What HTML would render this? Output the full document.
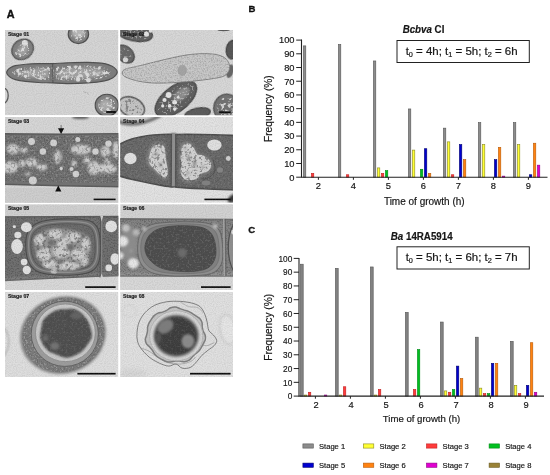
<!DOCTYPE html>
<html><head><meta charset="utf-8"><title>Figure</title>
<style>
html,body{margin:0;padding:0;background:#fff;}
body{width:550px;height:475px;overflow:hidden;font-family:"Liberation Sans", sans-serif;}
svg{display:block;}
svg text{font-family:"Liberation Sans", sans-serif;fill:#161616;stroke:#161616;stroke-width:0.18px;}
</style></head><body>
<svg width="550" height="475" viewBox="0 0 550 475">
<rect width="550" height="475" fill="#fff"/>
<text x="6.7" y="17.7" font-size="10.8" font-weight="bold" fill="#000" style="stroke:#000;stroke-width:0.35px">A</text>
<text x="248.6" y="11.6" font-size="9.6" font-weight="bold" fill="#000" style="stroke:#000;stroke-width:0.3px">B</text>
<text x="248.2" y="233.1" font-size="9.6" font-weight="bold" fill="#000" style="stroke:#000;stroke-width:0.3px">C</text>
<defs>
<filter id="b03" filterUnits="userSpaceOnUse" x="0" y="0" width="240" height="380"><feGaussianBlur stdDeviation="0.3"/></filter>
<filter id="b05" filterUnits="userSpaceOnUse" x="0" y="0" width="240" height="380"><feGaussianBlur stdDeviation="0.5"/></filter>
<filter id="b08" filterUnits="userSpaceOnUse" x="0" y="0" width="240" height="380"><feGaussianBlur stdDeviation="0.8"/></filter>
<filter id="b12" filterUnits="userSpaceOnUse" x="0" y="0" width="240" height="380"><feGaussianBlur stdDeviation="1.2"/></filter>
<filter id="b2" filterUnits="userSpaceOnUse" x="0" y="0" width="240" height="380"><feGaussianBlur stdDeviation="2.0"/></filter>
<filter id="b3" filterUnits="userSpaceOnUse" x="0" y="0" width="240" height="380"><feGaussianBlur stdDeviation="3.0"/></filter>
<filter id="nW1" x="0" y="0" width="100%" height="100%" color-interpolation-filters="sRGB"><feTurbulence type="fractalNoise" baseFrequency="0.28" numOctaves="3" seed="4"/><feColorMatrix type="matrix" values="0 0 0 0 0.86  0 0 0 0 0.86  0 0 0 0 0.86  8 0 0 0 -4.1"/><feGaussianBlur stdDeviation="0.45"/></filter>
<filter id="nW2" x="0" y="0" width="100%" height="100%" color-interpolation-filters="sRGB"><feTurbulence type="fractalNoise" baseFrequency="0.16" numOctaves="3" seed="11"/><feColorMatrix type="matrix" values="0 0 0 0 0.86  0 0 0 0 0.86  0 0 0 0 0.86  9 0 0 0 -4.6"/><feGaussianBlur stdDeviation="0.5"/></filter>
<filter id="nW3" x="0" y="0" width="100%" height="100%" color-interpolation-filters="sRGB"><feTurbulence type="fractalNoise" baseFrequency="0.5" numOctaves="2" seed="7"/><feColorMatrix type="matrix" values="0 0 0 0 0.85  0 0 0 0 0.85  0 0 0 0 0.85  7 0 0 0 -3.7"/><feGaussianBlur stdDeviation="0.35"/></filter>
<filter id="nD1" x="0" y="0" width="100%" height="100%" color-interpolation-filters="sRGB"><feTurbulence type="fractalNoise" baseFrequency="0.7" numOctaves="2" seed="5"/><feColorMatrix type="matrix" values="0 0 0 0 0.25  0 0 0 0 0.25  0 0 0 0 0.25  3 0 0 0 -1.3"/><feGaussianBlur stdDeviation="0.3"/></filter>
<filter id="nD2" x="0" y="0" width="100%" height="100%" color-interpolation-filters="sRGB"><feTurbulence type="fractalNoise" baseFrequency="0.35" numOctaves="3" seed="9"/><feColorMatrix type="matrix" values="0 0 0 0 0.28  0 0 0 0 0.28  0 0 0 0 0.28  6 0 0 0 -3.1"/><feGaussianBlur stdDeviation="0.45"/></filter>
<filter id="nG" x="0" y="0" width="100%" height="100%" color-interpolation-filters="sRGB"><feTurbulence type="fractalNoise" baseFrequency="0.9" numOctaves="1" seed="2"/><feColorMatrix type="matrix" values="0 0 0 0 0.5  0 0 0 0 0.5  0 0 0 0 0.5  1.2 0 0 0 -0.45"/></filter>
</defs>
<defs>
<clipPath id="cp1"><rect x="5" y="30" width="113.4" height="85.2"/></clipPath>
<clipPath id="cp2"><rect x="120.2" y="30" width="112.8" height="85.2"/></clipPath>
<clipPath id="cp3"><rect x="5" y="117" width="113.4" height="85.8"/></clipPath>
<clipPath id="cp4"><rect x="120.2" y="117" width="112.8" height="85.8"/></clipPath>
<clipPath id="cp5"><rect x="5" y="204.2" width="113.4" height="85.8"/></clipPath>
<clipPath id="cp6"><rect x="120.2" y="204.2" width="112.8" height="85.8"/></clipPath>
<clipPath id="cp7"><rect x="5" y="291.8" width="113.4" height="85.2"/></clipPath>
<clipPath id="cp8"><rect x="120.2" y="291.8" width="112.8" height="85.2"/></clipPath>
</defs>
<g clip-path="url(#cp1)">
<rect x="5" y="30" width="113.4" height="85.2" fill="#d5d5d5"/>
<ellipse cx="22.60" cy="49.40" rx="11.30" ry="9.80" transform="rotate(-35 22.60 49.40)" fill="#808080" stroke="#4e4e4e" stroke-width="1.2" filter="url(#b03)"/><ellipse cx="22.60" cy="50.40" rx="6.00" ry="4.50" transform="rotate(-35 22.60 50.40)" fill="#a4a4a4" filter="url(#b12)"/><clipPath id="c1"><ellipse cx="22.60" cy="49.40" rx="8.50" ry="7.00" transform="rotate(-35 22.60 49.40)" /></clipPath><g clip-path="url(#c1)"><rect x="1.5" y="28.3" width="42.2" height="42.2" filter="url(#nW1)" opacity="1.0"/></g>
<ellipse cx="24.80" cy="42.90" rx="3.00" ry="2.80" fill="#e0e0e0" filter="url(#b05)"/>
<ellipse cx="78.41" cy="34.09" rx="10.20" ry="9.50" fill="#808080" stroke="#4e4e4e" stroke-width="1.2" filter="url(#b03)"/><ellipse cx="78.41" cy="33.09" rx="6.50" ry="5.00" fill="#b8b8b8" filter="url(#b12)"/><clipPath id="c2"><ellipse cx="78.41" cy="34.09" rx="7.40" ry="6.70" /></clipPath><g clip-path="url(#c2)"><rect x="58.7" y="14.4" width="39.4" height="39.4" filter="url(#nW1)" opacity="1.0"/></g>
<ellipse cx="106.82" cy="105.23" rx="11.60" ry="11.00" fill="#808080" stroke="#4e4e4e" stroke-width="1.2" filter="url(#b03)"/><ellipse cx="105.82" cy="105.23" rx="6.50" ry="6.00" fill="#adadad" filter="url(#b12)"/><clipPath id="c3"><ellipse cx="106.82" cy="105.23" rx="8.50" ry="7.90" /></clipPath><g clip-path="url(#c3)"><rect x="84.2" y="82.6" width="45.2" height="45.2" filter="url(#nW1)" opacity="1.0"/></g>
<ellipse cx="3.60" cy="95.50" rx="4.60" ry="7.50" fill="#d8d8d8" stroke="#5a5a5a" stroke-width="1.3" filter="url(#b05)"/>
<path d="M6.66 72.53C6.66 71.74 7.14 70.80 7.70 70.04C8.25 69.28 8.70 68.69 9.98 67.97C11.26 67.24 12.75 66.31 15.37 65.68C18.00 65.06 21.94 64.58 25.75 64.23C29.55 63.89 33.77 63.71 38.20 63.61C42.62 63.51 47.46 63.75 52.30 63.61C57.14 63.47 61.29 62.99 67.24 62.78C73.19 62.57 81.76 62.23 87.99 62.37C94.21 62.50 100.50 62.92 104.59 63.61C108.67 64.30 110.57 65.55 112.47 66.51C114.37 67.48 115.20 68.49 116.00 69.42C116.79 70.35 117.28 71.18 117.24 72.12C117.21 73.05 116.58 74.05 115.79 75.02C114.99 75.99 114.34 76.96 112.47 77.93C110.60 78.89 108.67 80.00 104.59 80.83C100.50 81.66 94.21 82.46 87.99 82.90C81.76 83.35 73.19 83.53 67.24 83.53C61.29 83.53 57.14 83.08 52.30 82.90C47.46 82.73 42.62 82.73 38.20 82.49C33.77 82.25 29.55 81.94 25.75 81.45C21.94 80.97 18.00 80.31 15.37 79.59C12.75 78.86 11.26 77.89 9.98 77.10C8.70 76.30 8.25 75.57 7.70 74.81C7.14 74.05 6.66 73.33 6.66 72.53Z" fill="#7c7c7c" stroke="#505050" stroke-width="1.2" filter="url(#b03)"/>
<path d="M17.45 73.15C17.45 71.84 25.06 70.11 29.90 69.42C34.74 68.73 43.55 67.69 46.49 69.00C49.43 70.32 50.30 75.92 47.53 77.30C44.76 78.69 34.91 77.99 29.90 77.30C24.88 76.61 17.45 74.47 17.45 73.15Z" fill="#a2a2a2" filter="url(#b12)"/>
<path d="M57.90 71.49C59.36 70.11 61.54 69.00 67.24 68.38C72.95 67.76 85.91 67.24 92.14 67.76C98.36 68.28 103.89 69.90 104.59 71.49C105.28 73.08 102.51 76.13 96.29 77.30C90.06 78.48 73.53 78.65 67.24 78.55C60.95 78.44 60.08 77.86 58.53 76.68C56.97 75.50 56.45 72.88 57.90 71.49Z" fill="#a2a2a2" filter="url(#b12)"/>
<clipPath id="c4"><path d="M12.26 72.53C12.26 71.42 14.16 70.25 16.41 69.42C18.66 68.59 22.12 68.00 25.75 67.55C29.38 67.10 34.29 66.86 38.20 66.72C42.10 66.58 46.18 66.72 49.19 66.72C52.20 66.72 53.24 66.86 56.24 66.72C59.25 66.58 61.95 66.10 67.24 65.89C72.53 65.68 82.28 65.34 87.99 65.48C93.69 65.62 98.02 66.07 101.47 66.72C104.93 67.38 107.11 68.45 108.73 69.42C110.36 70.39 111.29 71.49 111.22 72.53C111.15 73.57 110.05 74.71 108.32 75.64C106.59 76.58 104.24 77.44 100.85 78.13C97.46 78.82 93.59 79.41 87.99 79.79C82.39 80.17 72.53 80.41 67.24 80.41C61.95 80.41 59.25 79.90 56.24 79.79C53.24 79.69 52.20 79.86 49.19 79.79C46.18 79.72 42.10 79.62 38.20 79.38C34.29 79.14 29.38 78.89 25.75 78.34C22.12 77.79 18.66 77.03 16.41 76.06C14.16 75.09 12.26 73.64 12.26 72.53Z" /></clipPath><g clip-path="url(#c4)"><rect x="5.0" y="60.0" width="114.0" height="28.0" filter="url(#nW1)" opacity="1"/></g>
<clipPath id="c5"><path d="M12.26 72.53C12.26 71.42 14.16 70.25 16.41 69.42C18.66 68.59 22.12 68.00 25.75 67.55C29.38 67.10 34.29 66.86 38.20 66.72C42.10 66.58 46.18 66.72 49.19 66.72C52.20 66.72 53.24 66.86 56.24 66.72C59.25 66.58 61.95 66.10 67.24 65.89C72.53 65.68 82.28 65.34 87.99 65.48C93.69 65.62 98.02 66.07 101.47 66.72C104.93 67.38 107.11 68.45 108.73 69.42C110.36 70.39 111.29 71.49 111.22 72.53C111.15 73.57 110.05 74.71 108.32 75.64C106.59 76.58 104.24 77.44 100.85 78.13C97.46 78.82 93.59 79.41 87.99 79.79C82.39 80.17 72.53 80.41 67.24 80.41C61.95 80.41 59.25 79.90 56.24 79.79C53.24 79.69 52.20 79.86 49.19 79.79C46.18 79.72 42.10 79.62 38.20 79.38C34.29 79.14 29.38 78.89 25.75 78.34C22.12 77.79 18.66 77.03 16.41 76.06C14.16 75.09 12.26 73.64 12.26 72.53Z" /></clipPath><g clip-path="url(#c5)"><rect x="5.0" y="60.0" width="114.0" height="28.0" filter="url(#nW3)" opacity="0.6"/></g>
<path d="M52.72 63.40 L52.93 82.90" stroke="#4a4a4a" stroke-width="0.9" fill="none" filter="url(#b03)"/>
<path d="M50.85 65.68 L51.06 80.83 M54.79 65.68 L55.00 80.83" stroke="#727272" stroke-width="1.6" fill="none" filter="url(#b05)"/>
<ellipse cx="78.03" cy="79.38" rx="2.28" ry="2.28" fill="#dcdcdc" filter="url(#b03)"/>
<ellipse cx="88.40" cy="80.21" rx="2.28" ry="2.28" fill="#dcdcdc" filter="url(#b03)"/>
<ellipse cx="87.57" cy="74.61" rx="1.87" ry="1.87" fill="#dcdcdc" filter="url(#b03)"/>
<ellipse cx="75.54" cy="66.93" rx="1.45" ry="1.45" fill="#dcdcdc" filter="url(#b03)"/>
<ellipse cx="99.40" cy="67.97" rx="1.45" ry="1.45" fill="#dcdcdc" filter="url(#b03)"/>
<ellipse cx="17.86" cy="71.08" rx="1.66" ry="1.66" fill="#dcdcdc" filter="url(#b03)"/>
<ellipse cx="94.21" cy="73.98" rx="1.45" ry="1.45" fill="#dcdcdc" filter="url(#b03)"/>
<path d="M83.5 91.5 l2.5 1.4 M86.5 92.3 l2.2 2.0" stroke="#9a9a9a" stroke-width="0.6" fill="none"/>
<rect x="106.2" y="111.05" width="9.6" height="1.9" fill="#0a0a0a"/>
<text x="7.9" y="36.2" font-size="5.2" font-weight="bold" fill="#000" stroke="#000" stroke-width="0.18">Stage 01</text>
<rect x="5" y="30" width="113.4" height="85.2" filter="url(#nG)" opacity="0.35"/>
</g>
<g clip-path="url(#cp2)">
<rect x="120.2" y="30" width="112.8" height="85.2" fill="#d7d7d7"/>
<ellipse cx="133.86" cy="32.50" rx="19.00" ry="8.50" transform="rotate(12 133.86 32.50)" fill="#5e5e5e" stroke="#444" stroke-width="1.2" filter="url(#b03)"/><clipPath id="c6"><ellipse cx="133.86" cy="32.50" rx="16.80" ry="6.30" transform="rotate(12 133.86 32.50)" /></clipPath><g clip-path="url(#c6)"><rect x="106.4" y="5.0" width="55.0" height="55.0" filter="url(#nW3)" opacity="0.5"/></g>
<ellipse cx="146.36" cy="34.09" rx="2.60" ry="2.60" fill="#e4e4e4" filter="url(#b03)"/>
<ellipse cx="150.45" cy="30.91" rx="1.80" ry="1.80" fill="#e4e4e4" filter="url(#b03)"/>
<ellipse cx="125.00" cy="54.09" rx="10.50" ry="7.60" transform="rotate(42 125.00 54.09)" fill="#666" stroke="#464646" stroke-width="1.2" filter="url(#b03)"/><clipPath id="c7"><ellipse cx="125.00" cy="54.09" rx="8.30" ry="5.40" transform="rotate(42 125.00 54.09)" /></clipPath><g clip-path="url(#c7)"><rect x="106.9" y="36.0" width="36.2" height="36.2" filter="url(#nW3)" opacity="0.4"/></g>
<ellipse cx="125.45" cy="59.77" rx="2.60" ry="2.60" fill="#d8d8d8" filter="url(#b05)"/>
<ellipse cx="232.73" cy="49.55" rx="6.50" ry="9.50" transform="rotate(10 232.73 49.55)" fill="#555" stroke="#3e3e3e" stroke-width="1.2" filter="url(#b03)"/>
<ellipse cx="230.00" cy="71.14" rx="3.50" ry="7.00" transform="rotate(15 230.00 71.14)" fill="#666" filter="url(#b05)"/>
<ellipse cx="223.64" cy="29.55" rx="7.00" ry="1.60" fill="#555" filter="url(#b05)"/>
<ellipse cx="175.91" cy="98.86" rx="24.50" ry="12.60" transform="rotate(-38 175.91 98.86)" fill="#5c5c5c" stroke="#3f3f3f" stroke-width="1.2" filter="url(#b03)"/><ellipse cx="181.41" cy="94.36" rx="9.50" ry="5.00" transform="rotate(-38 181.41 94.36)" fill="#8c8c8c" filter="url(#b12)"/><clipPath id="c8"><ellipse cx="175.91" cy="98.86" rx="21.90" ry="10.00" transform="rotate(-38 175.91 98.86)" /></clipPath><g clip-path="url(#c8)"><rect x="138.8" y="61.8" width="74.2" height="74.2" filter="url(#nW3)" opacity="0.5"/></g>
<ellipse cx="168.64" cy="95.00" rx="2.95" ry="2.95" fill="#e6e6e6" filter="url(#b03)"/>
<ellipse cx="164.55" cy="100.00" rx="2.05" ry="2.05" fill="#e6e6e6" filter="url(#b03)"/>
<ellipse cx="174.77" cy="102.27" rx="2.27" ry="2.27" fill="#e6e6e6" filter="url(#b03)"/>
<ellipse cx="169.55" cy="105.91" rx="1.82" ry="1.82" fill="#e6e6e6" filter="url(#b03)"/>
<ellipse cx="162.73" cy="105.91" rx="1.59" ry="1.59" fill="#e6e6e6" filter="url(#b03)"/>
<ellipse cx="174.77" cy="109.09" rx="1.82" ry="1.82" fill="#e6e6e6" filter="url(#b03)"/>
<ellipse cx="178.18" cy="97.27" rx="1.36" ry="1.36" fill="#e6e6e6" filter="url(#b03)"/>
<ellipse cx="131.59" cy="107.05" rx="13.50" ry="9.50" transform="rotate(25 131.59 107.05)" fill="#c4c4c4" stroke="#505050" stroke-width="1.4" filter="url(#b03)"/>
<clipPath id="c9"><ellipse cx="131.59" cy="107.05" rx="11.00" ry="7.50" transform="rotate(25 131.59 107.05)" /></clipPath><g clip-path="url(#c9)"><rect x="120.0" y="95.0" width="30.0" height="22.0" filter="url(#nD2)" opacity="0.5"/></g>
<ellipse cx="197.50" cy="113.64" rx="13.00" ry="5.50" transform="rotate(-12 197.50 113.64)" fill="#5a5a5a" stroke="#444" stroke-width="1.2" filter="url(#b03)"/>
<ellipse cx="226.36" cy="107.50" rx="12.50" ry="13.50" transform="rotate(20 226.36 107.50)" fill="#707070" stroke="#484848" stroke-width="1.2" filter="url(#b03)"/><clipPath id="c10"><ellipse cx="226.36" cy="107.50" rx="9.40" ry="10.40" transform="rotate(20 226.36 107.50)" /></clipPath><g clip-path="url(#c10)"><rect x="200.4" y="81.5" width="52.0" height="52.0" filter="url(#nW1)" opacity="0.9"/></g>
<path d="M122.28 72.95C122.32 72.25 122.46 71.36 123.11 70.66C123.77 69.97 124.67 69.35 126.22 68.80C127.78 68.24 130.03 67.90 132.45 67.34C134.87 66.79 135.91 66.65 140.75 65.48C145.59 64.30 154.58 61.92 161.49 60.29C168.41 58.67 176.71 56.76 182.24 55.73C187.77 54.69 190.54 54.41 194.69 54.07C198.84 53.72 203.16 53.48 207.14 53.65C211.11 53.82 215.37 54.20 218.55 55.10C221.73 56.00 224.36 57.18 226.22 59.05C228.09 60.91 229.51 64.02 229.75 66.31C229.99 68.59 229.02 70.98 227.68 72.74C226.33 74.50 225.77 75.68 221.66 76.89C217.54 78.10 209.56 79.14 202.99 80.00C196.42 80.86 189.16 81.56 182.24 82.07C175.33 82.59 167.03 83.01 161.49 83.11C155.96 83.22 152.85 83.01 149.05 82.70C145.24 82.39 141.78 81.87 138.67 81.24C135.56 80.62 132.66 79.72 130.37 78.96C128.09 78.20 126.22 77.37 124.98 76.68C123.73 75.99 123.35 75.44 122.90 74.81C122.46 74.19 122.25 73.64 122.28 72.95Z" fill="#c9c9c9" stroke="#7c7c7c" stroke-width="0.9" filter="url(#b03)"/>
<clipPath id="c11"><path d="M122.28 72.95C122.32 72.25 122.46 71.36 123.11 70.66C123.77 69.97 124.67 69.35 126.22 68.80C127.78 68.24 130.03 67.90 132.45 67.34C134.87 66.79 135.91 66.65 140.75 65.48C145.59 64.30 154.58 61.92 161.49 60.29C168.41 58.67 176.71 56.76 182.24 55.73C187.77 54.69 190.54 54.41 194.69 54.07C198.84 53.72 203.16 53.48 207.14 53.65C211.11 53.82 215.37 54.20 218.55 55.10C221.73 56.00 224.36 57.18 226.22 59.05C228.09 60.91 229.51 64.02 229.75 66.31C229.99 68.59 229.02 70.98 227.68 72.74C226.33 74.50 225.77 75.68 221.66 76.89C217.54 78.10 209.56 79.14 202.99 80.00C196.42 80.86 189.16 81.56 182.24 82.07C175.33 82.59 167.03 83.01 161.49 83.11C155.96 83.22 152.85 83.01 149.05 82.70C145.24 82.39 141.78 81.87 138.67 81.24C135.56 80.62 132.66 79.72 130.37 78.96C128.09 78.20 126.22 77.37 124.98 76.68C123.73 75.99 123.35 75.44 122.90 74.81C122.46 74.19 122.25 73.64 122.28 72.95Z" /></clipPath><g clip-path="url(#c11)"><rect x="120.0" y="50.0" width="113.0" height="40.0" filter="url(#nD1)" opacity="0.22"/></g>
<clipPath id="c12"><path d="M122.28 72.95C122.32 72.25 122.46 71.36 123.11 70.66C123.77 69.97 124.67 69.35 126.22 68.80C127.78 68.24 130.03 67.90 132.45 67.34C134.87 66.79 135.91 66.65 140.75 65.48C145.59 64.30 154.58 61.92 161.49 60.29C168.41 58.67 176.71 56.76 182.24 55.73C187.77 54.69 190.54 54.41 194.69 54.07C198.84 53.72 203.16 53.48 207.14 53.65C211.11 53.82 215.37 54.20 218.55 55.10C221.73 56.00 224.36 57.18 226.22 59.05C228.09 60.91 229.51 64.02 229.75 66.31C229.99 68.59 229.02 70.98 227.68 72.74C226.33 74.50 225.77 75.68 221.66 76.89C217.54 78.10 209.56 79.14 202.99 80.00C196.42 80.86 189.16 81.56 182.24 82.07C175.33 82.59 167.03 83.01 161.49 83.11C155.96 83.22 152.85 83.01 149.05 82.70C145.24 82.39 141.78 81.87 138.67 81.24C135.56 80.62 132.66 79.72 130.37 78.96C128.09 78.20 126.22 77.37 124.98 76.68C123.73 75.99 123.35 75.44 122.90 74.81C122.46 74.19 122.25 73.64 122.28 72.95Z" /></clipPath><g clip-path="url(#c12)"><rect x="120.0" y="50.0" width="113.0" height="40.0" filter="url(#nW3)" opacity="0.35"/></g>
<ellipse cx="182.24" cy="70.46" rx="4.30" ry="5.00" fill="#a4a4a4" stroke="#989898" stroke-width="0.6" filter="url(#b05)"/>
<rect x="219.2" y="111.30" width="11.4" height="1.8" fill="#0a0a0a"/>
<text x="123.1" y="36.2" font-size="5.2" font-weight="bold" fill="#000" stroke="#000" stroke-width="0.18">Stage 02</text>
<rect x="120.2" y="30" width="112.8" height="85.2" filter="url(#nG)" opacity="0.35"/>
</g>
<g clip-path="url(#cp3)">
<rect x="5" y="117" width="113.4" height="85.8" fill="#d6d6d6"/>
<rect x="5" y="188" width="113.4" height="16" fill="#cecece"/>
<ellipse cx="80.50" cy="117.20" rx="8.50" ry="1.90" fill="#5a5a5a" filter="url(#b08)"/>
<path d="M4 133.7 L61 134.2 L119 133.6 L119 186.7 L61 185.8 L4 184.2 Z" fill="#727272" stroke="#5a5a5a" stroke-width="1.4" filter="url(#b05)"/>
<clipPath id="c13"><path d="M4 135.45 L119 135.45 L119 183.18 L4 181.36 Z" /></clipPath><g clip-path="url(#c13)"><rect x="5.0" y="130.0" width="114.0" height="62.0" filter="url(#nD1)" opacity="0.5"/></g>
<ellipse cx="13.00" cy="149.00" rx="7.00" ry="5.50" fill="#8e8e8e" filter="url(#b12)"/>
<ellipse cx="10.00" cy="167.00" rx="9.00" ry="6.50" fill="#8e8e8e" filter="url(#b12)"/>
<ellipse cx="22.00" cy="163.50" rx="4.00" ry="4.00" fill="#8e8e8e" filter="url(#b12)"/>
<ellipse cx="31.50" cy="162.50" rx="6.50" ry="5.00" fill="#8e8e8e" filter="url(#b12)"/>
<ellipse cx="41.60" cy="167.20" rx="6.00" ry="4.00" fill="#8e8e8e" filter="url(#b12)"/>
<ellipse cx="58.00" cy="157.00" rx="4.50" ry="7.50" fill="#8e8e8e" filter="url(#b12)"/>
<ellipse cx="27.70" cy="174.00" rx="2.60" ry="2.60" fill="#8e8e8e" filter="url(#b12)"/>
<ellipse cx="24.00" cy="150.00" rx="4.50" ry="3.00" fill="#8e8e8e" filter="url(#b12)"/>
<ellipse cx="81.00" cy="149.50" rx="11.00" ry="5.50" fill="#8e8e8e" filter="url(#b12)"/>
<ellipse cx="105.50" cy="151.50" rx="5.50" ry="6.00" fill="#8e8e8e" filter="url(#b12)"/>
<ellipse cx="94.00" cy="168.00" rx="7.00" ry="7.50" fill="#8e8e8e" filter="url(#b12)"/>
<ellipse cx="107.00" cy="168.50" rx="10.50" ry="5.50" fill="#8e8e8e" filter="url(#b12)"/>
<ellipse cx="107.50" cy="161.50" rx="3.50" ry="3.50" fill="#8e8e8e" filter="url(#b12)"/>
<ellipse cx="74.00" cy="163.50" rx="3.00" ry="4.00" fill="#8e8e8e" filter="url(#b12)"/>
<ellipse cx="116.00" cy="150.00" rx="4.00" ry="9.00" fill="#8e8e8e" filter="url(#b12)"/>
<ellipse cx="87.00" cy="160.00" rx="4.00" ry="4.00" fill="#8e8e8e" filter="url(#b12)"/>
<ellipse cx="13.00" cy="149.00" rx="6.00" ry="4.50" fill="#cecece" filter="url(#b08)"/>
<ellipse cx="10.00" cy="167.00" rx="8.00" ry="5.50" fill="#cecece" filter="url(#b08)"/>
<ellipse cx="22.00" cy="163.50" rx="3.00" ry="3.00" fill="#cecece" filter="url(#b08)"/>
<ellipse cx="31.50" cy="162.50" rx="5.50" ry="4.00" fill="#cecece" filter="url(#b08)"/>
<ellipse cx="41.60" cy="167.20" rx="5.00" ry="3.00" fill="#cecece" filter="url(#b08)"/>
<ellipse cx="58.00" cy="157.00" rx="3.50" ry="6.50" fill="#cecece" filter="url(#b08)"/>
<ellipse cx="27.70" cy="174.00" rx="1.60" ry="1.60" fill="#cecece" filter="url(#b08)"/>
<ellipse cx="24.00" cy="150.00" rx="3.50" ry="2.00" fill="#cecece" filter="url(#b08)"/>
<ellipse cx="81.00" cy="149.50" rx="10.00" ry="4.50" fill="#cecece" filter="url(#b08)"/>
<ellipse cx="105.50" cy="151.50" rx="4.50" ry="5.00" fill="#cecece" filter="url(#b08)"/>
<ellipse cx="94.00" cy="168.00" rx="6.00" ry="6.50" fill="#cecece" filter="url(#b08)"/>
<ellipse cx="107.00" cy="168.50" rx="9.50" ry="4.50" fill="#cecece" filter="url(#b08)"/>
<ellipse cx="107.50" cy="161.50" rx="2.50" ry="2.50" fill="#cecece" filter="url(#b08)"/>
<ellipse cx="74.00" cy="163.50" rx="2.00" ry="3.00" fill="#cecece" filter="url(#b08)"/>
<ellipse cx="116.00" cy="150.00" rx="3.00" ry="8.00" fill="#cecece" filter="url(#b08)"/>
<ellipse cx="87.00" cy="160.00" rx="3.00" ry="3.00" fill="#cecece" filter="url(#b08)"/>
<clipPath id="c14"><ellipse cx="13.00" cy="149.00" rx="7.50" ry="6.00" /><ellipse cx="10.00" cy="167.00" rx="9.50" ry="7.00" /><ellipse cx="22.00" cy="163.50" rx="4.50" ry="4.50" /><ellipse cx="31.50" cy="162.50" rx="7.00" ry="5.50" /><ellipse cx="41.60" cy="167.20" rx="6.50" ry="4.50" /><ellipse cx="58.00" cy="157.00" rx="5.00" ry="8.00" /><ellipse cx="27.70" cy="174.00" rx="3.10" ry="3.10" /><ellipse cx="24.00" cy="150.00" rx="5.00" ry="3.50" /><ellipse cx="81.00" cy="149.50" rx="11.50" ry="6.00" /><ellipse cx="105.50" cy="151.50" rx="6.00" ry="6.50" /><ellipse cx="94.00" cy="168.00" rx="7.50" ry="8.00" /><ellipse cx="107.00" cy="168.50" rx="11.00" ry="6.00" /><ellipse cx="107.50" cy="161.50" rx="4.00" ry="4.00" /><ellipse cx="74.00" cy="163.50" rx="3.50" ry="4.50" /><ellipse cx="116.00" cy="150.00" rx="4.50" ry="9.50" /><ellipse cx="87.00" cy="160.00" rx="4.50" ry="4.50" /></clipPath><g clip-path="url(#c14)"><rect x="5.0" y="130.0" width="114.0" height="62.0" filter="url(#nD2)" opacity="0.4"/></g>
<clipPath id="c15"><path d="M4 135.45 L119 135.45 L119 183.18 L4 181.36 Z" /></clipPath><g clip-path="url(#c15)"><rect x="5.0" y="130.0" width="114.0" height="62.0" filter="url(#nW3)" opacity="0.22"/></g>
<path d="M61.3 133.5 L59.2 186" stroke="#6a6a6a" stroke-width="1.6" fill="none" filter="url(#b08)" opacity="0.6"/>
<ellipse cx="31.50" cy="141.60" rx="3.50" ry="3.50" fill="#d2d2d2" filter="url(#b05)"/>
<ellipse cx="53.60" cy="142.90" rx="3.40" ry="3.40" fill="#d2d2d2" filter="url(#b05)"/>
<ellipse cx="32.80" cy="180.50" rx="4.00" ry="4.00" fill="#d2d2d2" filter="url(#b05)"/>
<ellipse cx="42.90" cy="151.50" rx="3.20" ry="3.20" fill="#d2d2d2" filter="url(#b05)"/>
<ellipse cx="61.20" cy="168.50" rx="1.70" ry="1.70" fill="#d2d2d2" filter="url(#b05)"/>
<ellipse cx="77.80" cy="139.50" rx="2.50" ry="2.50" fill="#d2d2d2" filter="url(#b05)"/>
<ellipse cx="108.50" cy="143.60" rx="3.20" ry="3.20" fill="#d2d2d2" filter="url(#b05)"/>
<ellipse cx="95.50" cy="151.50" rx="3.20" ry="3.20" fill="#d2d2d2" filter="url(#b05)"/>
<ellipse cx="75.90" cy="174.00" rx="3.20" ry="3.20" fill="#d2d2d2" filter="url(#b05)"/>
<ellipse cx="71.50" cy="169.00" rx="2.00" ry="2.00" fill="#d2d2d2" filter="url(#b05)"/>
<path d="M61.10 124.90V128.70" stroke="#666" stroke-width="0.9"/><path d="M58.00 128.20L64.20 128.20L61.10 134.00Z" fill="#0a0a0a"/>
<path d="M58.30 193.60V190.90" stroke="#e8e8e8" stroke-width="0.9"/><path d="M55.20 191.40L61.40 191.40L58.30 185.60Z" fill="#0a0a0a"/>
<rect x="93.6" y="198.60" width="22.0" height="1.6" fill="#0a0a0a"/>
<text x="7.9" y="123.2" font-size="5.2" font-weight="bold" fill="#000" stroke="#000" stroke-width="0.18">Stage 03</text>
<rect x="5" y="117" width="113.4" height="85.8" filter="url(#nG)" opacity="0.35"/>
</g>
<g clip-path="url(#cp4)">
<rect x="120.2" y="117" width="112.8" height="85.8" fill="#e2e2e2"/>
<path d="M117 112 L117 121.2 Q134 129.5 160 116 L160 112 Z" fill="#cdcdcd" filter="url(#b05)"/>
<path d="M117 120.6 Q134 129.5 160.5 115.6" fill="none" stroke="#6a6a6a" stroke-width="3.3" filter="url(#b08)"/>
<path d="M111.70 150.20C113.08 149.16 116.54 145.87 120.00 143.97C123.46 142.07 127.95 140.17 132.45 138.78C136.94 137.40 142.13 136.40 146.97 135.67C151.81 134.95 157.17 134.63 161.49 134.43C165.82 134.22 170.76 134.15 172.90 134.43C175.05 134.70 173.84 136.09 174.36 136.09C174.88 136.09 171.24 134.70 176.02 134.43C180.79 134.15 192.61 134.22 202.99 134.43C213.36 134.63 232.38 135.46 238.26 135.67L238.26 190.03C232.38 189.82 213.36 189.27 202.99 188.78C192.61 188.30 180.79 187.68 176.02 187.12C171.24 186.57 174.88 185.50 174.36 185.46C173.84 185.43 175.05 186.92 172.90 186.92C170.76 186.92 166.85 186.40 161.49 185.46C156.13 184.53 147.66 182.87 140.75 181.32C133.83 179.76 124.84 177.68 120.00 176.13C115.16 174.57 113.08 172.67 111.70 171.98Z" fill="#696969" stroke="#4c4c4c" stroke-width="1.6" filter="url(#b05)"/>
<clipPath id="c16"><path d="M111.70 150.20C113.08 149.16 116.54 145.87 120.00 143.97C123.46 142.07 127.95 140.17 132.45 138.78C136.94 137.40 142.13 136.40 146.97 135.67C151.81 134.95 157.17 134.63 161.49 134.43C165.82 134.22 170.76 134.15 172.90 134.43C175.05 134.70 173.84 136.09 174.36 136.09C174.88 136.09 171.24 134.70 176.02 134.43C180.79 134.15 192.61 134.22 202.99 134.43C213.36 134.63 232.38 135.46 238.26 135.67L238.26 190.03C232.38 189.82 213.36 189.27 202.99 188.78C192.61 188.30 180.79 187.68 176.02 187.12C171.24 186.57 174.88 185.50 174.36 185.46C173.84 185.43 175.05 186.92 172.90 186.92C170.76 186.92 166.85 186.40 161.49 185.46C156.13 184.53 147.66 182.87 140.75 181.32C133.83 179.76 124.84 177.68 120.00 176.13C115.16 174.57 113.08 172.67 111.70 171.98Z" /></clipPath><g clip-path="url(#c16)"><rect x="120.0" y="130.0" width="114.0" height="62.0" filter="url(#nD1)" opacity="0.4"/></g>
<clipPath id="c17"><path d="M111.70 150.20C113.08 149.16 116.54 145.87 120.00 143.97C123.46 142.07 127.95 140.17 132.45 138.78C136.94 137.40 142.13 136.40 146.97 135.67C151.81 134.95 157.17 134.63 161.49 134.43C165.82 134.22 170.76 134.15 172.90 134.43C175.05 134.70 173.84 136.09 174.36 136.09C174.88 136.09 171.24 134.70 176.02 134.43C180.79 134.15 192.61 134.22 202.99 134.43C213.36 134.63 232.38 135.46 238.26 135.67L238.26 190.03C232.38 189.82 213.36 189.27 202.99 188.78C192.61 188.30 180.79 187.68 176.02 187.12C171.24 186.57 174.88 185.50 174.36 185.46C173.84 185.43 175.05 186.92 172.90 186.92C170.76 186.92 166.85 186.40 161.49 185.46C156.13 184.53 147.66 182.87 140.75 181.32C133.83 179.76 124.84 177.68 120.00 176.13C115.16 174.57 113.08 172.67 111.70 171.98Z" /></clipPath><g clip-path="url(#c17)"><rect x="120.0" y="130.0" width="114.0" height="62.0" filter="url(#nW3)" opacity="0.1"/></g>
<path d="M173.6 133.6 L173.4 186" stroke="#4c4c4c" stroke-width="5.6" fill="none" filter="url(#b08)"/>
<path d="M173.6 133.2 L173.4 186.2" stroke="#909090" stroke-width="3.0" fill="none" filter="url(#b05)"/>
<path d="M146.55 159.82C146.55 157.76 147.27 154.97 148.00 152.55C148.73 150.12 149.33 147.02 150.91 145.27C152.48 143.53 155.27 142.19 157.45 142.07C159.64 141.95 162.67 142.80 164.00 144.55C165.33 146.29 165.04 149.76 165.45 152.55C165.87 155.33 166.06 158.36 166.47 161.27C166.88 164.18 167.73 167.33 167.93 170.00C168.12 172.67 168.29 175.70 167.64 177.27C166.98 178.85 165.58 179.82 164.00 179.45C162.42 179.09 160.12 176.79 158.18 175.09C156.24 173.39 154.06 170.97 152.36 169.27C150.67 167.58 148.97 166.48 148.00 164.91C147.03 163.33 146.55 161.88 146.55 159.82Z" fill="#888" filter="url(#b12)"/>
<path d="M179.56 149.64C180.10 147.33 180.65 144.42 182.18 143.09C183.71 141.76 186.79 141.03 188.73 141.64C190.67 142.24 192.36 144.79 193.82 146.73C195.27 148.67 195.76 151.94 197.45 153.27C199.15 154.61 201.82 153.64 204.00 154.73C206.18 155.82 209.09 157.88 210.55 159.82C212.00 161.76 212.97 164.30 212.73 166.36C212.48 168.42 211.03 170.73 209.09 172.18C207.15 173.64 203.03 173.76 201.09 175.09C199.15 176.42 199.39 178.97 197.45 180.18C195.52 181.39 192.00 182.36 189.45 182.36C186.91 182.36 183.93 181.76 182.18 180.18C180.44 178.61 179.35 175.45 178.98 172.91C178.62 170.36 180.00 167.58 180.00 164.91C180.00 162.24 179.05 159.45 178.98 156.91C178.91 154.36 179.03 151.94 179.56 149.64Z" fill="#888" filter="url(#b12)"/>
<path d="M146.55 159.82C146.55 157.76 147.27 154.97 148.00 152.55C148.73 150.12 149.33 147.02 150.91 145.27C152.48 143.53 155.27 142.19 157.45 142.07C159.64 141.95 162.67 142.80 164.00 144.55C165.33 146.29 165.04 149.76 165.45 152.55C165.87 155.33 166.06 158.36 166.47 161.27C166.88 164.18 167.73 167.33 167.93 170.00C168.12 172.67 168.29 175.70 167.64 177.27C166.98 178.85 165.58 179.82 164.00 179.45C162.42 179.09 160.12 176.79 158.18 175.09C156.24 173.39 154.06 170.97 152.36 169.27C150.67 167.58 148.97 166.48 148.00 164.91C147.03 163.33 146.55 161.88 146.55 159.82Z" fill="#d2d2d2" filter="url(#b08)" transform="translate(165 162) scale(0.88) translate(-165 -162)"/>
<path d="M179.56 149.64C180.10 147.33 180.65 144.42 182.18 143.09C183.71 141.76 186.79 141.03 188.73 141.64C190.67 142.24 192.36 144.79 193.82 146.73C195.27 148.67 195.76 151.94 197.45 153.27C199.15 154.61 201.82 153.64 204.00 154.73C206.18 155.82 209.09 157.88 210.55 159.82C212.00 161.76 212.97 164.30 212.73 166.36C212.48 168.42 211.03 170.73 209.09 172.18C207.15 173.64 203.03 173.76 201.09 175.09C199.15 176.42 199.39 178.97 197.45 180.18C195.52 181.39 192.00 182.36 189.45 182.36C186.91 182.36 183.93 181.76 182.18 180.18C180.44 178.61 179.35 175.45 178.98 172.91C178.62 170.36 180.00 167.58 180.00 164.91C180.00 162.24 179.05 159.45 178.98 156.91C178.91 154.36 179.03 151.94 179.56 149.64Z" fill="#d2d2d2" filter="url(#b08)" transform="translate(196 162) scale(0.9) translate(-196 -162)"/>
<clipPath id="c18"><path d="M146.55 159.82C146.55 157.76 147.27 154.97 148.00 152.55C148.73 150.12 149.33 147.02 150.91 145.27C152.48 143.53 155.27 142.19 157.45 142.07C159.64 141.95 162.67 142.80 164.00 144.55C165.33 146.29 165.04 149.76 165.45 152.55C165.87 155.33 166.06 158.36 166.47 161.27C166.88 164.18 167.73 167.33 167.93 170.00C168.12 172.67 168.29 175.70 167.64 177.27C166.98 178.85 165.58 179.82 164.00 179.45C162.42 179.09 160.12 176.79 158.18 175.09C156.24 173.39 154.06 170.97 152.36 169.27C150.67 167.58 148.97 166.48 148.00 164.91C147.03 163.33 146.55 161.88 146.55 159.82Z" /><path d="M179.56 149.64C180.10 147.33 180.65 144.42 182.18 143.09C183.71 141.76 186.79 141.03 188.73 141.64C190.67 142.24 192.36 144.79 193.82 146.73C195.27 148.67 195.76 151.94 197.45 153.27C199.15 154.61 201.82 153.64 204.00 154.73C206.18 155.82 209.09 157.88 210.55 159.82C212.00 161.76 212.97 164.30 212.73 166.36C212.48 168.42 211.03 170.73 209.09 172.18C207.15 173.64 203.03 173.76 201.09 175.09C199.15 176.42 199.39 178.97 197.45 180.18C195.52 181.39 192.00 182.36 189.45 182.36C186.91 182.36 183.93 181.76 182.18 180.18C180.44 178.61 179.35 175.45 178.98 172.91C178.62 170.36 180.00 167.58 180.00 164.91C180.00 162.24 179.05 159.45 178.98 156.91C178.91 154.36 179.03 151.94 179.56 149.64Z" /></clipPath><g clip-path="url(#c18)"><rect x="140.0" y="138.0" width="80.0" height="50.0" filter="url(#nD2)" opacity="0.5"/></g>
<ellipse cx="156.00" cy="154.00" rx="2.04" ry="1.45" fill="#7c7c7c" filter="url(#b08)" opacity="0.8"/>
<ellipse cx="160.36" cy="164.91" rx="1.45" ry="2.04" fill="#7c7c7c" filter="url(#b08)" opacity="0.8"/>
<ellipse cx="188.73" cy="158.36" rx="1.75" ry="2.62" fill="#7c7c7c" filter="url(#b08)" opacity="0.8"/>
<ellipse cx="194.55" cy="163.45" rx="1.45" ry="3.20" fill="#7c7c7c" filter="url(#b08)" opacity="0.8"/>
<ellipse cx="188.00" cy="172.91" rx="1.45" ry="1.16" fill="#7c7c7c" filter="url(#b08)" opacity="0.8"/>
<ellipse cx="154.55" cy="146.73" rx="1.75" ry="1.02" fill="#7c7c7c" filter="url(#b08)" opacity="0.8"/>
<ellipse cx="202.55" cy="167.09" rx="1.45" ry="1.02" fill="#7c7c7c" filter="url(#b08)" opacity="0.8"/>
<ellipse cx="185.09" cy="148.18" rx="1.31" ry="1.02" fill="#7c7c7c" filter="url(#b08)" opacity="0.8"/>
<ellipse cx="130.37" cy="158.49" rx="6.20" ry="5.80" fill="#e2e2e2" filter="url(#b05)"/>
<ellipse cx="214.40" cy="145.01" rx="7.20" ry="5.60" fill="#e0e0e0" filter="url(#b05)"/>
<ellipse cx="228.30" cy="158.49" rx="2.40" ry="2.40" fill="#d0d0d0" filter="url(#b05)"/>
<ellipse cx="220.00" cy="169.90" rx="3.00" ry="2.60" fill="#848484" filter="url(#b05)"/>
<ellipse cx="206.10" cy="182.98" rx="5.00" ry="3.00" fill="#808080" stroke="#4a4a4a" stroke-width="0.5" filter="url(#b05)"/>
<path d="M212.95 159.53C213.29 161.09 215.30 166.10 215.02 168.87C214.74 171.63 213.29 174.40 211.29 176.13C209.28 177.86 204.37 178.72 202.99 179.24" stroke="#444" stroke-width="0.7" fill="none" filter="url(#b03)"/>
<ellipse cx="233.07" cy="198.33" rx="6.00" ry="3.60" transform="rotate(-35 233.07 198.33)" fill="#343434" filter="url(#b08)"/>
<rect x="204.4" y="198.60" width="26.2" height="1.6" fill="#0a0a0a"/>
<text x="123.1" y="123.2" font-size="5.2" font-weight="bold" fill="#000" stroke="#000" stroke-width="0.18">Stage 04</text>
<rect x="120.2" y="117" width="112.8" height="85.8" filter="url(#nG)" opacity="0.35"/>
</g>
<g clip-path="url(#cp5)">
<rect x="5" y="204.2" width="113.4" height="85.8" fill="#d0d0d0"/>
<rect x="5" y="276" width="113.4" height="15" fill="#d8d8d8"/>
<path d="M4 216.86 L119 216.45 L119 275.6 L96 276.2 L50 278.2 L4 280.6 Z" fill="#707070" stroke="#5c5c5c" stroke-width="1.4" filter="url(#b05)"/>
<path d="M4 279 L50 276.6 L96 274.6 L119 274" stroke="#888" stroke-width="1.8" fill="none" filter="url(#b08)"/>
<clipPath id="c19"><path d="M4 216.86 L119 216.45 L119 275.6 L96 276.2 L50 278.2 L4 280.6 Z" /></clipPath><g clip-path="url(#c19)"><rect x="5.0" y="215.0" width="114.0" height="68.0" filter="url(#nD1)" opacity="0.5"/></g>
<path d="M25.75 245.49C25.68 240.65 26.09 235.64 27.82 232.01C29.55 228.38 32.32 225.75 36.12 223.71C39.92 221.67 44.42 220.56 50.64 219.77C56.87 218.97 66.89 218.73 73.46 218.94C80.03 219.15 85.98 219.35 90.06 221.01C94.14 222.67 96.22 224.82 97.95 228.90C99.67 232.98 100.30 239.96 100.44 245.49C100.57 251.03 100.33 257.77 98.78 262.09C97.22 266.41 95.32 269.28 91.10 271.43C86.88 273.57 80.21 274.44 73.46 274.95C66.72 275.47 56.87 275.23 50.64 274.54C44.42 273.85 39.85 273.05 36.12 270.80C32.39 268.56 29.97 265.27 28.24 261.05C26.51 256.84 25.82 250.33 25.75 245.49Z" fill="#707070" stroke="#484848" stroke-width="1.1" filter="url(#b03)"/>
<path d="M28.65 245.49C28.58 241.00 29.14 236.33 30.73 233.05C32.32 229.76 34.70 227.55 38.20 225.78C41.69 224.02 45.87 223.16 51.68 222.46C57.49 221.77 66.93 221.43 73.05 221.63C79.17 221.84 84.70 222.22 88.40 223.71C92.10 225.20 93.73 226.93 95.25 230.56C96.77 234.19 97.43 240.45 97.53 245.49C97.63 250.54 97.32 256.94 95.87 260.85C94.42 264.75 92.69 267.04 88.82 268.94C84.94 270.84 78.86 271.77 72.63 272.26C66.41 272.74 57.21 272.46 51.47 271.84C45.73 271.22 41.58 270.49 38.20 268.52C34.81 266.55 32.73 263.85 31.14 260.02C29.55 256.18 28.72 249.99 28.65 245.49Z" fill="none" stroke="#909090" stroke-width="1.1" filter="url(#b03)"/>
<path d="M30.73 245.49C30.66 241.41 31.28 237.26 32.80 234.29C34.32 231.32 36.60 229.28 39.85 227.65C43.11 226.03 46.84 225.16 52.30 224.54C57.77 223.92 66.83 223.67 72.63 223.92C78.44 224.16 83.73 224.64 87.16 225.99C90.58 227.34 91.83 228.76 93.17 232.01C94.52 235.26 95.15 240.89 95.25 245.49C95.35 250.09 95.11 256.01 93.80 259.60C92.48 263.20 90.96 265.34 87.37 267.07C83.77 268.80 78.13 269.56 72.22 269.98C66.31 270.39 57.28 270.15 51.89 269.56C46.49 268.97 42.97 268.25 39.85 266.45C36.74 264.65 34.74 262.26 33.22 258.77C31.69 255.28 30.80 249.57 30.73 245.49Z" fill="#6c6c6c" stroke="#4e4e4e" stroke-width="0.7" filter="url(#b03)"/>
<clipPath id="c20"><path d="M30.73 245.49C30.66 241.41 31.28 237.26 32.80 234.29C34.32 231.32 36.60 229.28 39.85 227.65C43.11 226.03 46.84 225.16 52.30 224.54C57.77 223.92 66.83 223.67 72.63 223.92C78.44 224.16 83.73 224.64 87.16 225.99C90.58 227.34 91.83 228.76 93.17 232.01C94.52 235.26 95.15 240.89 95.25 245.49C95.35 250.09 95.11 256.01 93.80 259.60C92.48 263.20 90.96 265.34 87.37 267.07C83.77 268.80 78.13 269.56 72.22 269.98C66.31 270.39 57.28 270.15 51.89 269.56C46.49 268.97 42.97 268.25 39.85 266.45C36.74 264.65 34.74 262.26 33.22 258.77C31.69 255.28 30.80 249.57 30.73 245.49Z" /></clipPath><g clip-path="url(#c20)"><rect x="20.0" y="220.0" width="85.0" height="58.0" filter="url(#nD1)" opacity="0.4"/></g>
<path d="M34.00 246.00C33.50 241.67 35.00 238.67 37.00 236.00C39.00 233.33 42.17 231.25 46.00 230.00C49.83 228.75 55.00 228.33 60.00 228.50C65.00 228.67 71.50 229.75 76.00 231.00C80.50 232.25 84.50 233.17 87.00 236.00C89.50 238.83 90.83 244.00 91.00 248.00C91.17 252.00 89.83 256.67 88.00 260.00C86.17 263.33 84.00 266.17 80.00 268.00C76.00 269.83 69.00 270.67 64.00 271.00C59.00 271.33 54.00 271.50 50.00 270.00C46.00 268.50 42.67 266.00 40.00 262.00C37.33 258.00 34.50 250.33 34.00 246.00Z" fill="#969696" filter="url(#b12)"/>
<ellipse cx="39.50" cy="239.80" rx="5.00" ry="5.00" fill="#cbcbcb" filter="url(#b08)"/>
<ellipse cx="55.50" cy="234.00" rx="7.00" ry="4.40" fill="#cbcbcb" filter="url(#b08)"/>
<ellipse cx="73.00" cy="237.00" rx="7.00" ry="4.40" fill="#cbcbcb" filter="url(#b08)"/>
<ellipse cx="86.00" cy="244.00" rx="3.60" ry="7.00" fill="#cbcbcb" filter="url(#b08)"/>
<ellipse cx="44.00" cy="254.40" rx="7.00" ry="5.80" fill="#cbcbcb" filter="url(#b08)"/>
<ellipse cx="61.40" cy="251.50" rx="8.70" ry="5.80" fill="#cbcbcb" filter="url(#b08)"/>
<ellipse cx="78.80" cy="254.40" rx="7.00" ry="5.00" fill="#cbcbcb" filter="url(#b08)"/>
<ellipse cx="49.70" cy="264.50" rx="7.00" ry="3.60" fill="#cbcbcb" filter="url(#b08)"/>
<ellipse cx="68.60" cy="266.00" rx="10.00" ry="3.60" fill="#cbcbcb" filter="url(#b08)"/>
<ellipse cx="84.60" cy="261.60" rx="3.60" ry="3.60" fill="#cbcbcb" filter="url(#b08)"/>
<ellipse cx="54.00" cy="270.40" rx="2.20" ry="2.20" fill="#cbcbcb" filter="url(#b08)"/>
<ellipse cx="64.00" cy="243.00" rx="6.00" ry="5.00" fill="#cbcbcb" filter="url(#b08)"/>
<clipPath id="c21"><path d="M34.00 246.00C33.50 241.67 35.00 238.67 37.00 236.00C39.00 233.33 42.17 231.25 46.00 230.00C49.83 228.75 55.00 228.33 60.00 228.50C65.00 228.67 71.50 229.75 76.00 231.00C80.50 232.25 84.50 233.17 87.00 236.00C89.50 238.83 90.83 244.00 91.00 248.00C91.17 252.00 89.83 256.67 88.00 260.00C86.17 263.33 84.00 266.17 80.00 268.00C76.00 269.83 69.00 270.67 64.00 271.00C59.00 271.33 54.00 271.50 50.00 270.00C46.00 268.50 42.67 266.00 40.00 262.00C37.33 258.00 34.50 250.33 34.00 246.00Z" /></clipPath><g clip-path="url(#c21)"><rect x="20.0" y="220.0" width="85.0" height="58.0" filter="url(#nD2)" opacity="0.5"/></g>
<clipPath id="c22"><ellipse cx="39.50" cy="239.80" rx="6.20" ry="6.20" /><ellipse cx="55.50" cy="234.00" rx="8.20" ry="5.60" /><ellipse cx="73.00" cy="237.00" rx="8.20" ry="5.60" /><ellipse cx="86.00" cy="244.00" rx="4.80" ry="8.20" /><ellipse cx="44.00" cy="254.40" rx="8.20" ry="7.00" /><ellipse cx="61.40" cy="251.50" rx="9.90" ry="7.00" /><ellipse cx="78.80" cy="254.40" rx="8.20" ry="6.20" /><ellipse cx="49.70" cy="264.50" rx="8.20" ry="4.80" /><ellipse cx="68.60" cy="266.00" rx="11.20" ry="4.80" /><ellipse cx="84.60" cy="261.60" rx="4.80" ry="4.80" /><ellipse cx="54.00" cy="270.40" rx="3.40" ry="3.40" /><ellipse cx="64.00" cy="243.00" rx="7.20" ry="6.20" /></clipPath><g clip-path="url(#c22)"><rect x="20.0" y="220.0" width="85.0" height="58.0" filter="url(#nW1)" opacity="0.5"/></g>
<ellipse cx="51.18" cy="242.73" rx="3.00" ry="3.00" fill="#686868" filter="url(#b08)" opacity="0.85"/>
<ellipse cx="70.09" cy="247.09" rx="3.60" ry="3.60" fill="#686868" filter="url(#b08)" opacity="0.85"/>
<ellipse cx="38.09" cy="247.82" rx="1.80" ry="1.80" fill="#686868" filter="url(#b08)" opacity="0.85"/>
<ellipse cx="83.18" cy="236.91" rx="1.80" ry="1.80" fill="#686868" filter="url(#b08)" opacity="0.85"/>
<ellipse cx="60.64" cy="261.64" rx="2.20" ry="2.20" fill="#686868" filter="url(#b08)" opacity="0.85"/>
<path d="M101.68 216.45 L101.38 277.86" stroke="#828282" stroke-width="1.4" fill="none" filter="url(#b05)"/>
<path d="M100.48 216.45 L100.18 277.86" stroke="#4c4c4c" stroke-width="0.8" fill="none" filter="url(#b03)"/>
<path d="M100.08 215.41 L103.28 215.41 L101.68 221.43Z" fill="#cfcfcf" filter="url(#b05)"/>
<path d="M99.88 279.10 L103.48 279.10 L101.68 273.50Z" fill="#d4d4d4" filter="url(#b05)"/>
<ellipse cx="26.37" cy="227.24" rx="5.39" ry="4.98" fill="#e2e2e2" filter="url(#b05)"/>
<ellipse cx="17.03" cy="246.53" rx="5.81" ry="7.47" fill="#e2e2e2" filter="url(#b05)"/>
<ellipse cx="111.22" cy="226.41" rx="5.81" ry="5.81" fill="#e2e2e2" filter="url(#b05)"/>
<ellipse cx="114.96" cy="258.98" rx="4.56" ry="5.81" fill="#e2e2e2" filter="url(#b05)"/>
<ellipse cx="24.09" cy="262.09" rx="3.32" ry="3.32" fill="#e2e2e2" filter="url(#b05)"/>
<ellipse cx="26.78" cy="269.98" rx="4.15" ry="4.15" fill="#e2e2e2" filter="url(#b05)"/>
<ellipse cx="17.86" cy="235.12" rx="3.53" ry="3.32" fill="#e2e2e2" filter="url(#b05)"/>
<ellipse cx="108.73" cy="267.90" rx="3.32" ry="3.32" fill="#e2e2e2" filter="url(#b05)"/>
<ellipse cx="14.34" cy="226.82" rx="1.66" ry="1.45" fill="#e2e2e2" filter="url(#b05)"/>
<rect x="85.2" y="286.25" width="30.4" height="1.7" fill="#0a0a0a"/>
<text x="7.9" y="210.4" font-size="5.2" font-weight="bold" fill="#000" stroke="#000" stroke-width="0.18">Stage 05</text>
<rect x="5" y="204.2" width="113.4" height="85.8" filter="url(#nG)" opacity="0.35"/>
</g>
<g clip-path="url(#cp6)">
<rect x="120.2" y="204.2" width="112.8" height="85.8" fill="#d2d2d2"/>
<rect x="120.2" y="276" width="112.8" height="15" fill="#d8d8d8"/>
<path d="M119 218.9 L234 219.6 L234 275.99 L119 275.99 Z" fill="#848484" stroke="#707070" stroke-width="1.6" filter="url(#b05)"/>
<path d="M119 274.12 L234 274.12" stroke="#9a9a9a" stroke-width="2.0" fill="none" filter="url(#b08)"/>
<clipPath id="c23"><path d="M119 218.9 L234 219.6 L234 275.99 L119 275.99 Z" /></clipPath><g clip-path="url(#c23)"><rect x="120.0" y="215.0" width="114.0" height="68.0" filter="url(#nD1)" opacity="0.45"/></g>
<ellipse cx="129.34" cy="243.42" rx="9.00" ry="18.00" fill="#8c8c8c" filter="url(#b2)"/>
<path d="M137.63 248.61C137.63 243.59 138.50 237.02 140.75 233.05C142.99 229.07 146.28 226.54 151.12 224.75C155.96 222.95 163.22 222.74 169.79 222.26C176.36 221.77 183.97 221.60 190.54 221.84C197.11 222.08 204.37 222.19 209.21 223.71C214.05 225.23 217.34 226.82 219.59 230.97C221.83 235.12 222.42 243.07 222.70 248.61C222.97 254.14 223.15 260.02 221.24 264.17C219.34 268.32 216.40 271.57 211.29 273.50C206.17 275.44 197.46 275.40 190.54 275.78C183.62 276.16 176.36 276.34 169.79 275.78C163.22 275.23 155.96 274.57 151.12 272.46C146.28 270.36 142.99 267.11 140.75 263.13C138.50 259.15 137.63 253.62 137.63 248.61Z" fill="#8e8e8e" stroke="#626262" stroke-width="0.9" filter="url(#b05)"/>
<path d="M140.75 248.61C140.68 244.11 141.58 238.23 143.65 234.71C145.73 231.18 148.84 229.14 153.20 227.44C157.55 225.75 163.74 225.13 169.79 224.54C175.84 223.95 183.35 223.67 189.50 223.92C195.66 224.16 202.26 224.47 206.72 225.99C211.18 227.51 214.19 229.28 216.27 233.05C218.34 236.81 218.93 243.70 219.17 248.61C219.41 253.52 219.45 258.77 217.72 262.51C215.99 266.24 213.33 269.18 208.80 271.01C204.27 272.85 196.87 273.12 190.54 273.50C184.21 273.88 176.88 273.88 170.83 273.29C164.78 272.71 158.69 271.91 154.23 269.98C149.77 268.04 146.31 265.24 144.07 261.68C141.82 258.11 140.82 253.10 140.75 248.61Z" fill="#808080" stroke="#6c6c6c" stroke-width="0.7" filter="url(#b05)"/>
<path d="M144.90 248.61C144.72 244.98 146.11 240.31 148.01 237.20C149.91 234.08 152.68 231.73 156.31 229.93C159.94 228.14 164.78 227.10 169.79 226.41C174.81 225.72 180.86 225.54 186.39 225.78C191.92 226.03 198.67 226.30 202.99 227.86C207.31 229.41 210.18 231.66 212.32 235.12C214.47 238.58 215.50 244.46 215.85 248.61C216.20 252.76 215.85 256.73 214.40 260.02C212.95 263.30 210.77 266.41 207.14 268.32C203.51 270.22 198.15 271.01 192.61 271.43C187.08 271.84 179.47 271.50 173.94 270.80C168.41 270.11 163.57 269.25 159.42 267.28C155.27 265.31 151.47 262.09 149.05 258.98C146.63 255.87 145.07 252.24 144.90 248.61Z" fill="#4c4c4c" stroke="#444" stroke-width="0.8" filter="url(#b05)"/>
<clipPath id="c24"><path d="M144.90 248.61C144.72 244.98 146.11 240.31 148.01 237.20C149.91 234.08 152.68 231.73 156.31 229.93C159.94 228.14 164.78 227.10 169.79 226.41C174.81 225.72 180.86 225.54 186.39 225.78C191.92 226.03 198.67 226.30 202.99 227.86C207.31 229.41 210.18 231.66 212.32 235.12C214.47 238.58 215.50 244.46 215.85 248.61C216.20 252.76 215.85 256.73 214.40 260.02C212.95 263.30 210.77 266.41 207.14 268.32C203.51 270.22 198.15 271.01 192.61 271.43C187.08 271.84 179.47 271.50 173.94 270.80C168.41 270.11 163.57 269.25 159.42 267.28C155.27 265.31 151.47 262.09 149.05 258.98C146.63 255.87 145.07 252.24 144.90 248.61Z" /></clipPath><g clip-path="url(#c24)"><rect x="140.0" y="220.0" width="80.0" height="55.0" filter="url(#nD2)" opacity="0.5"/></g>
<clipPath id="c25"><path d="M144.90 248.61C144.72 244.98 146.11 240.31 148.01 237.20C149.91 234.08 152.68 231.73 156.31 229.93C159.94 228.14 164.78 227.10 169.79 226.41C174.81 225.72 180.86 225.54 186.39 225.78C191.92 226.03 198.67 226.30 202.99 227.86C207.31 229.41 210.18 231.66 212.32 235.12C214.47 238.58 215.50 244.46 215.85 248.61C216.20 252.76 215.85 256.73 214.40 260.02C212.95 263.30 210.77 266.41 207.14 268.32C203.51 270.22 198.15 271.01 192.61 271.43C187.08 271.84 179.47 271.50 173.94 270.80C168.41 270.11 163.57 269.25 159.42 267.28C155.27 265.31 151.47 262.09 149.05 258.98C146.63 255.87 145.07 252.24 144.90 248.61Z" /></clipPath><g clip-path="url(#c25)"><rect x="140.0" y="220.0" width="80.0" height="55.0" filter="url(#nW3)" opacity="0.12"/></g>
<ellipse cx="182.24" cy="252.76" rx="4.50" ry="4.50" fill="#6a6a6a" filter="url(#b12)"/>
<path d="M223.73 218.94 L224.36 275.99" stroke="#a2a2a2" stroke-width="1.5" fill="none" filter="url(#b05)"/>
<path d="M225.39 218.94 L226.02 275.99" stroke="#5a5a5a" stroke-width="0.8" fill="none" filter="url(#b05)"/>
<ellipse cx="239.29" cy="247.57" rx="11.00" ry="27.00" fill="#8e8e8e" stroke="#4e4e4e" stroke-width="1.2" filter="url(#b05)"/>
<ellipse cx="233.07" cy="232.01" rx="1.80" ry="2.60" fill="#e0e0e0" filter="url(#b05)"/>
<ellipse cx="125.89" cy="227.99" rx="3.83" ry="3.64" fill="#c4c4c4" filter="url(#b08)"/>
<ellipse cx="122.65" cy="241.25" rx="5.60" ry="5.32" fill="#e6e6e6" filter="url(#b08)"/>
<ellipse cx="119.71" cy="255.53" rx="3.83" ry="3.64" fill="#e4e4e4" filter="url(#b08)"/>
<ellipse cx="133.25" cy="263.34" rx="5.60" ry="5.32" fill="#e6e6e6" filter="url(#b08)"/>
<ellipse cx="136.20" cy="232.41" rx="3.53" ry="3.36" fill="#b8b8b8" filter="url(#b08)"/>
<ellipse cx="144.30" cy="228.73" rx="2.36" ry="2.24" fill="#bababa" filter="url(#b08)"/>
<ellipse cx="131.05" cy="250.82" rx="1.47" ry="1.40" fill="#a0a0a0" filter="url(#b08)"/>
<ellipse cx="215.20" cy="226.20" rx="2.60" ry="2.20" transform="rotate(30 215.20 226.20)" fill="#c0c0c0" filter="url(#b08)"/>
<rect x="201.0" y="286.25" width="29.6" height="1.7" fill="#0a0a0a"/>
<text x="123.1" y="210.4" font-size="5.2" font-weight="bold" fill="#000" stroke="#000" stroke-width="0.18">Stage 06</text>
<rect x="120.2" y="204.2" width="112.8" height="85.8" filter="url(#nG)" opacity="0.35"/>
</g>
<g clip-path="url(#cp7)">
<rect x="5" y="291.8" width="113.4" height="85.2" fill="#dedede"/>
<ellipse cx="0.60" cy="341.50" rx="8.00" ry="15.00" fill="#e4e4e4" stroke="#a6a6a6" stroke-width="1.3" filter="url(#b08)"/>
<ellipse cx="63.00" cy="335.10" rx="43.60" ry="38.60" transform="rotate(-18 63.00 335.10)" fill="#8c8c8c" filter="url(#b12)"/>
<ellipse cx="63.30" cy="335.00" rx="41.60" ry="37.00" transform="rotate(-18 63.30 335.00)" fill="#7c7c7c" filter="url(#b05)"/>
<clipPath id="c26"><ellipse cx="63.30" cy="335.00" rx="41.60" ry="37.00" transform="rotate(-18 63.30 335.00)" /></clipPath><g clip-path="url(#c26)"><rect x="15.0" y="292.0" width="100.0" height="84.0" filter="url(#nW3)" opacity="0.32"/></g>
<clipPath id="c27"><ellipse cx="63.30" cy="335.00" rx="41.60" ry="37.00" transform="rotate(-18 63.30 335.00)" /></clipPath><g clip-path="url(#c27)"><rect x="15.0" y="292.0" width="100.0" height="84.0" filter="url(#nD1)" opacity="0.3"/></g>
<ellipse cx="64.80" cy="333.80" rx="33.60" ry="32.60" fill="#9c9c9c" stroke="#5c5c5c" stroke-width="0.9" filter="url(#b05)"/>
<ellipse cx="65.40" cy="332.80" rx="29.90" ry="28.80" fill="#c9c9c9" stroke="#858585" stroke-width="0.7" filter="url(#b05)"/>
<path d="M91.73 332.80C91.92 334.61 91.97 336.62 91.42 338.35C90.87 340.08 89.47 341.62 88.45 343.16C87.42 344.69 86.40 346.13 85.27 347.55C84.14 348.98 83.08 350.56 81.67 351.73C80.25 352.89 78.47 353.71 76.77 354.54C75.08 355.37 73.32 356.19 71.47 356.71C69.63 357.22 67.60 357.74 65.70 357.62C63.80 357.51 61.90 356.60 60.10 355.99C58.30 355.38 56.67 354.65 54.92 353.97C53.17 353.28 51.19 352.85 49.61 351.87C48.04 350.88 46.66 349.46 45.47 348.05C44.28 346.63 43.32 345.01 42.47 343.38C41.61 341.75 40.67 340.03 40.34 338.27C40.02 336.51 40.34 334.58 40.53 332.80C40.72 331.02 41.21 329.35 41.50 327.58C41.80 325.81 41.69 323.86 42.32 322.16C42.94 320.46 44.00 318.76 45.24 317.38C46.48 316.00 48.19 314.96 49.74 313.89C51.30 312.81 52.84 311.66 54.56 310.93C56.28 310.21 58.22 309.81 60.08 309.52C61.94 309.24 63.80 309.34 65.70 309.22C67.60 309.11 69.59 308.62 71.49 308.81C73.40 309.00 75.46 309.49 77.13 310.36C78.81 311.23 80.14 312.78 81.54 314.03C82.93 315.28 84.32 316.48 85.50 317.87C86.68 319.26 87.81 320.77 88.60 322.38C89.39 323.98 89.74 325.76 90.26 327.50C90.78 329.24 91.54 330.99 91.73 332.80Z" fill="#4d4d4d" filter="url(#b08)"/>
<clipPath id="c28"><path d="M91.73 332.80C91.92 334.61 91.97 336.62 91.42 338.35C90.87 340.08 89.47 341.62 88.45 343.16C87.42 344.69 86.40 346.13 85.27 347.55C84.14 348.98 83.08 350.56 81.67 351.73C80.25 352.89 78.47 353.71 76.77 354.54C75.08 355.37 73.32 356.19 71.47 356.71C69.63 357.22 67.60 357.74 65.70 357.62C63.80 357.51 61.90 356.60 60.10 355.99C58.30 355.38 56.67 354.65 54.92 353.97C53.17 353.28 51.19 352.85 49.61 351.87C48.04 350.88 46.66 349.46 45.47 348.05C44.28 346.63 43.32 345.01 42.47 343.38C41.61 341.75 40.67 340.03 40.34 338.27C40.02 336.51 40.34 334.58 40.53 332.80C40.72 331.02 41.21 329.35 41.50 327.58C41.80 325.81 41.69 323.86 42.32 322.16C42.94 320.46 44.00 318.76 45.24 317.38C46.48 316.00 48.19 314.96 49.74 313.89C51.30 312.81 52.84 311.66 54.56 310.93C56.28 310.21 58.22 309.81 60.08 309.52C61.94 309.24 63.80 309.34 65.70 309.22C67.60 309.11 69.59 308.62 71.49 308.81C73.40 309.00 75.46 309.49 77.13 310.36C78.81 311.23 80.14 312.78 81.54 314.03C82.93 315.28 84.32 316.48 85.50 317.87C86.68 319.26 87.81 320.77 88.60 322.38C89.39 323.98 89.74 325.76 90.26 327.50C90.78 329.24 91.54 330.99 91.73 332.80Z" /></clipPath><g clip-path="url(#c28)"><rect x="30.0" y="305.0" width="70.0" height="55.0" filter="url(#nD2)" opacity="0.5"/></g>
<clipPath id="c29"><path d="M91.73 332.80C91.92 334.61 91.97 336.62 91.42 338.35C90.87 340.08 89.47 341.62 88.45 343.16C87.42 344.69 86.40 346.13 85.27 347.55C84.14 348.98 83.08 350.56 81.67 351.73C80.25 352.89 78.47 353.71 76.77 354.54C75.08 355.37 73.32 356.19 71.47 356.71C69.63 357.22 67.60 357.74 65.70 357.62C63.80 357.51 61.90 356.60 60.10 355.99C58.30 355.38 56.67 354.65 54.92 353.97C53.17 353.28 51.19 352.85 49.61 351.87C48.04 350.88 46.66 349.46 45.47 348.05C44.28 346.63 43.32 345.01 42.47 343.38C41.61 341.75 40.67 340.03 40.34 338.27C40.02 336.51 40.34 334.58 40.53 332.80C40.72 331.02 41.21 329.35 41.50 327.58C41.80 325.81 41.69 323.86 42.32 322.16C42.94 320.46 44.00 318.76 45.24 317.38C46.48 316.00 48.19 314.96 49.74 313.89C51.30 312.81 52.84 311.66 54.56 310.93C56.28 310.21 58.22 309.81 60.08 309.52C61.94 309.24 63.80 309.34 65.70 309.22C67.60 309.11 69.59 308.62 71.49 308.81C73.40 309.00 75.46 309.49 77.13 310.36C78.81 311.23 80.14 312.78 81.54 314.03C82.93 315.28 84.32 316.48 85.50 317.87C86.68 319.26 87.81 320.77 88.60 322.38C89.39 323.98 89.74 325.76 90.26 327.50C90.78 329.24 91.54 330.99 91.73 332.80Z" /></clipPath><g clip-path="url(#c29)"><rect x="30.0" y="305.0" width="70.0" height="55.0" filter="url(#nW3)" opacity="0.09"/></g>
<ellipse cx="54.79" cy="345.98" rx="4.50" ry="3.80" fill="#727272" filter="url(#b12)"/>
<ellipse cx="76.58" cy="315.48" rx="6.00" ry="3.50" fill="#626262" filter="url(#b12)"/>
<ellipse cx="45.46" cy="338.30" rx="3.00" ry="3.00" fill="#686868" filter="url(#b12)"/>
<rect x="77.4" y="372.85" width="38.2" height="1.7" fill="#0a0a0a"/>
<text x="7.9" y="298.0" font-size="5.2" font-weight="bold" fill="#000" stroke="#000" stroke-width="0.18">Stage 07</text>
<rect x="5" y="291.8" width="113.4" height="85.2" filter="url(#nG)" opacity="0.35"/>
</g>
<g clip-path="url(#cp8)">
<rect x="120.2" y="291.8" width="112.8" height="85.2" fill="#e0e0e0"/>
<ellipse cx="227.88" cy="329.38" rx="8.00" ry="15.00" transform="rotate(-10 227.88 329.38)" fill="#e6e6e6" stroke="#d2d2d2" stroke-width="2.2" filter="url(#b12)"/>
<ellipse cx="129.34" cy="310.71" rx="7.00" ry="6.00" fill="none" stroke="#d6d6d6" stroke-width="1.5" filter="url(#b12)"/>
<ellipse cx="132.45" cy="373.99" rx="14.00" ry="5.00" fill="#d6d6d6" filter="url(#b2)"/>
<path d="M137.01 332.49C137.29 329.38 137.77 325.41 139.09 322.12C140.40 318.84 142.37 315.55 144.90 312.78C147.42 310.02 150.60 307.36 154.23 305.52C157.86 303.69 162.36 302.48 166.68 301.79C171.00 301.10 176.02 301.17 180.17 301.37C184.32 301.58 188.29 302.17 191.58 303.03C194.86 303.90 197.70 304.76 199.88 306.56C202.05 308.36 203.44 311.23 204.65 313.82C205.86 316.41 206.45 319.35 207.14 322.12C207.83 324.89 207.76 328.28 208.80 330.42C209.83 332.56 212.05 333.32 213.36 334.98C214.67 336.64 216.51 338.65 216.68 340.38C216.85 342.11 215.82 343.73 214.40 345.36C212.98 346.98 210.25 348.47 208.17 350.13C206.10 351.79 203.85 353.41 201.95 355.32C200.05 357.22 198.67 359.53 196.76 361.54C194.86 363.54 192.96 366.24 190.54 367.35C188.12 368.46 184.66 368.73 182.24 368.18C179.82 367.63 178.26 364.37 176.02 364.03C173.77 363.68 171.52 366.24 168.76 366.10C165.99 365.97 162.70 364.72 159.42 363.20C156.13 361.68 152.16 359.50 149.05 356.98C145.93 354.45 142.68 350.75 140.75 348.05C138.81 345.36 138.05 343.39 137.43 340.79C136.80 338.20 136.74 335.61 137.01 332.49Z" fill="#dedede" stroke="#5e5e5e" stroke-width="0.75" filter="url(#b03)"/>
<path d="M140.75 348.05C142.13 348.57 146.28 349.68 149.05 351.17C151.81 352.65 154.23 355.07 157.34 356.98C160.46 358.88 163.91 361.40 167.72 362.58C171.52 363.75 176.36 364.20 180.17 364.03C183.97 363.86 187.95 362.72 190.54 361.54C193.13 360.36 194.86 357.74 195.73 356.98" fill="none" stroke="#8a8a8a" stroke-width="0.6" filter="url(#b03)"/>
<path d="M201.95 345.36C202.99 345.36 206.10 345.84 208.17 345.36C210.25 344.87 213.36 342.94 214.40 342.45" fill="none" stroke="#909090" stroke-width="0.6" filter="url(#b03)"/>
<path d="M180.17 301.79C181.55 302.58 185.53 305.59 188.46 306.56C191.40 307.53 195.38 306.56 197.80 307.60C200.22 308.63 202.12 311.92 202.99 312.78" fill="none" stroke="#9a9a9a" stroke-width="0.6" filter="url(#b03)"/>
<path d="M205.19 335.19C205.55 336.60 205.64 338.16 205.34 339.56C205.04 340.96 204.07 342.27 203.40 343.58C202.73 344.88 202.08 346.14 201.33 347.37C200.58 348.59 199.85 349.85 198.90 350.93C197.94 352.00 196.66 352.81 195.58 353.80C194.51 354.78 193.52 355.76 192.46 356.83C191.39 357.90 190.51 359.39 189.22 360.20C187.94 361.02 186.31 361.57 184.75 361.72C183.19 361.87 181.41 361.20 179.85 361.10C178.29 360.99 176.90 360.94 175.39 361.09C173.88 361.24 172.33 361.92 170.79 361.98C169.25 362.04 167.61 361.87 166.13 361.45C164.66 361.04 163.32 360.18 161.96 359.48C160.61 358.78 159.20 358.13 157.99 357.26C156.78 356.39 155.62 355.38 154.71 354.25C153.80 353.12 153.35 351.67 152.54 350.49C151.73 349.31 150.87 348.29 149.86 347.18C148.85 346.07 147.26 345.11 146.50 343.84C145.74 342.58 145.28 341.03 145.30 339.58C145.31 338.14 146.23 336.60 146.59 335.19C146.95 333.78 147.28 332.50 147.46 331.11C147.64 329.73 147.39 328.27 147.67 326.89C147.94 325.51 148.48 324.14 149.11 322.85C149.75 321.57 150.65 320.39 151.49 319.18C152.33 317.98 153.06 316.62 154.15 315.61C155.24 314.61 156.60 313.73 158.01 313.14C159.42 312.56 161.18 312.55 162.62 312.09C164.06 311.63 165.30 311.08 166.64 310.36C167.98 309.64 169.22 308.31 170.68 307.76C172.14 307.22 173.85 306.94 175.39 307.09C176.94 307.24 178.48 308.15 179.96 308.65C181.43 309.15 182.81 309.64 184.24 310.10C185.68 310.55 187.20 310.79 188.57 311.37C189.93 311.95 191.17 312.79 192.44 313.58C193.70 314.36 194.90 315.20 196.15 316.07C197.40 316.93 198.96 317.65 199.95 318.75C200.93 319.85 201.69 321.26 202.07 322.66C202.45 324.06 202.05 325.74 202.23 327.16C202.41 328.57 202.68 329.80 203.17 331.14C203.67 332.48 204.83 333.79 205.19 335.19Z" fill="#c4c4c4" stroke="#7e7e7e" stroke-width="1.5" filter="url(#b03)"/>
<ellipse cx="176.22" cy="335.81" rx="26.60" ry="25.00" fill="#d6d6d6" stroke="#b0b0b0" stroke-width="0.8" filter="url(#b05)"/>
<ellipse cx="176.22" cy="335.81" rx="23.00" ry="21.40" fill="#8e8e8e" filter="url(#b08)"/>
<ellipse cx="176.22" cy="335.81" rx="21.20" ry="19.60" fill="#3a3a3a" filter="url(#b12)"/>
<clipPath id="c30"><ellipse cx="176.22" cy="335.81" rx="21.00" ry="19.50" /></clipPath><g clip-path="url(#c30)"><rect x="150.0" y="310.0" width="55.0" height="55.0" filter="url(#nW3)" opacity="0.08"/></g>
<ellipse cx="165.40" cy="326.40" rx="8.60" ry="6.40" transform="rotate(-35 165.40 326.40)" fill="#7c7c7c" filter="url(#b12)"/>
<ellipse cx="187.90" cy="341.30" rx="6.30" ry="7.00" fill="#8a8a8a" filter="url(#b12)"/>
<ellipse cx="158.50" cy="338.00" rx="3.00" ry="5.00" fill="#525252" filter="url(#b12)"/>
<rect x="190.0" y="372.85" width="40.6" height="1.7" fill="#0a0a0a"/>
<text x="123.1" y="298.0" font-size="5.2" font-weight="bold" fill="#000" stroke="#000" stroke-width="0.18">Stage 08</text>
<rect x="120.2" y="291.8" width="112.8" height="85.2" filter="url(#nG)" opacity="0.35"/>
</g>
<g id="chartB">
<rect x="303.40" y="45.88" width="2.4" height="131.32" fill="#8c8c8c" stroke="#555555" stroke-width="0.6"/>
<rect x="311.40" y="173.39" width="2.4" height="3.81" fill="#ff3b3b" stroke="#c02020" stroke-width="0.6"/>
<rect x="338.40" y="44.51" width="2.4" height="132.69" fill="#8c8c8c" stroke="#555555" stroke-width="0.6"/>
<rect x="346.40" y="174.76" width="2.4" height="2.44" fill="#ff3b3b" stroke="#c02020" stroke-width="0.6"/>
<rect x="373.40" y="60.96" width="2.4" height="116.23" fill="#8c8c8c" stroke="#555555" stroke-width="0.6"/>
<rect x="377.40" y="167.90" width="2.4" height="9.30" fill="#ffff33" stroke="#8a8a20" stroke-width="0.6"/>
<rect x="381.40" y="173.39" width="2.4" height="3.81" fill="#ff3b3b" stroke="#c02020" stroke-width="0.6"/>
<rect x="385.40" y="170.65" width="2.4" height="6.56" fill="#00c020" stroke="#008a18" stroke-width="0.6"/>
<rect x="408.40" y="108.95" width="2.4" height="68.25" fill="#8c8c8c" stroke="#555555" stroke-width="0.6"/>
<rect x="412.40" y="150.08" width="2.4" height="27.12" fill="#ffff33" stroke="#8a8a20" stroke-width="0.6"/>
<rect x="420.40" y="169.27" width="2.4" height="7.93" fill="#00c020" stroke="#008a18" stroke-width="0.6"/>
<rect x="424.40" y="148.71" width="2.4" height="28.49" fill="#0000d0" stroke="#000070" stroke-width="0.6"/>
<rect x="428.40" y="173.39" width="2.4" height="3.81" fill="#ff8210" stroke="#b85a08" stroke-width="0.6"/>
<rect x="443.40" y="128.14" width="2.4" height="49.06" fill="#8c8c8c" stroke="#555555" stroke-width="0.6"/>
<rect x="447.40" y="141.85" width="2.4" height="35.35" fill="#ffff33" stroke="#8a8a20" stroke-width="0.6"/>
<rect x="451.40" y="174.76" width="2.4" height="2.44" fill="#ff3b3b" stroke="#c02020" stroke-width="0.6"/>
<rect x="459.40" y="144.60" width="2.4" height="32.60" fill="#0000d0" stroke="#000070" stroke-width="0.6"/>
<rect x="463.40" y="159.68" width="2.4" height="17.52" fill="#ff8210" stroke="#b85a08" stroke-width="0.6"/>
<rect x="478.40" y="122.66" width="2.4" height="54.54" fill="#8c8c8c" stroke="#555555" stroke-width="0.6"/>
<rect x="482.40" y="144.60" width="2.4" height="32.60" fill="#ffff33" stroke="#8a8a20" stroke-width="0.6"/>
<rect x="494.40" y="159.68" width="2.4" height="17.52" fill="#0000d0" stroke="#000070" stroke-width="0.6"/>
<rect x="498.40" y="147.34" width="2.4" height="29.86" fill="#ff8210" stroke="#b85a08" stroke-width="0.6"/>
<rect x="502.40" y="176.13" width="2.4" height="1.07" fill="#e000d0" stroke="#900088" stroke-width="0.6"/>
<rect x="513.40" y="122.66" width="2.4" height="54.54" fill="#8c8c8c" stroke="#555555" stroke-width="0.6"/>
<rect x="517.40" y="144.60" width="2.4" height="32.60" fill="#ffff33" stroke="#8a8a20" stroke-width="0.6"/>
<rect x="529.40" y="174.76" width="2.4" height="2.44" fill="#0000d0" stroke="#000070" stroke-width="0.6"/>
<rect x="533.40" y="143.22" width="2.4" height="33.98" fill="#ff8210" stroke="#b85a08" stroke-width="0.6"/>
<rect x="537.40" y="165.16" width="2.4" height="12.04" fill="#e000d0" stroke="#900088" stroke-width="0.6"/>
<path d="M301.5 39.6V177.2H547.5" fill="none" stroke="#222" stroke-width="1.1"/>
<path d="M296.2 177.20H301.5" stroke="#222" stroke-width="1"/>
<text transform="translate(294.5 180.50) scale(1.0 1)" text-anchor="end" font-size="9.3">0</text>
<path d="M296.2 163.49H301.5" stroke="#222" stroke-width="1"/>
<text transform="translate(294.5 166.79) scale(1.0 1)" text-anchor="end" font-size="9.3">10</text>
<path d="M296.2 149.78H301.5" stroke="#222" stroke-width="1"/>
<text transform="translate(294.5 153.08) scale(1.0 1)" text-anchor="end" font-size="9.3">20</text>
<path d="M296.2 136.07H301.5" stroke="#222" stroke-width="1"/>
<text transform="translate(294.5 139.37) scale(1.0 1)" text-anchor="end" font-size="9.3">30</text>
<path d="M296.2 122.36H301.5" stroke="#222" stroke-width="1"/>
<text transform="translate(294.5 125.66) scale(1.0 1)" text-anchor="end" font-size="9.3">40</text>
<path d="M296.2 108.65H301.5" stroke="#222" stroke-width="1"/>
<text transform="translate(294.5 111.95) scale(1.0 1)" text-anchor="end" font-size="9.3">50</text>
<path d="M296.2 94.94H301.5" stroke="#222" stroke-width="1"/>
<text transform="translate(294.5 98.24) scale(1.0 1)" text-anchor="end" font-size="9.3">60</text>
<path d="M296.2 81.23H301.5" stroke="#222" stroke-width="1"/>
<text transform="translate(294.5 84.53) scale(1.0 1)" text-anchor="end" font-size="9.3">70</text>
<path d="M296.2 67.52H301.5" stroke="#222" stroke-width="1"/>
<text transform="translate(294.5 70.82) scale(1.0 1)" text-anchor="end" font-size="9.3">80</text>
<path d="M296.2 53.81H301.5" stroke="#222" stroke-width="1"/>
<text transform="translate(294.5 57.11) scale(1.0 1)" text-anchor="end" font-size="9.3">90</text>
<path d="M296.2 40.10H301.5" stroke="#222" stroke-width="1"/>
<text transform="translate(294.5 43.40) scale(1.0 1)" text-anchor="end" font-size="9.3">100</text>
<path d="M318.40 177.2v2.6" stroke="#222" stroke-width="1"/>
<text x="318.40" y="189.30" text-anchor="middle" font-size="9.3">2</text>
<path d="M353.40 177.2v2.6" stroke="#222" stroke-width="1"/>
<text x="353.40" y="189.30" text-anchor="middle" font-size="9.3">4</text>
<path d="M388.40 177.2v2.6" stroke="#222" stroke-width="1"/>
<text x="388.40" y="189.30" text-anchor="middle" font-size="9.3">5</text>
<path d="M423.40 177.2v2.6" stroke="#222" stroke-width="1"/>
<text x="423.40" y="189.30" text-anchor="middle" font-size="9.3">6</text>
<path d="M458.40 177.2v2.6" stroke="#222" stroke-width="1"/>
<text x="458.40" y="189.30" text-anchor="middle" font-size="9.3">7</text>
<path d="M493.40 177.2v2.6" stroke="#222" stroke-width="1"/>
<text x="493.40" y="189.30" text-anchor="middle" font-size="9.3">8</text>
<path d="M528.40 177.2v2.6" stroke="#222" stroke-width="1"/>
<text x="528.40" y="189.30" text-anchor="middle" font-size="9.3">9</text>
<text x="424.30" y="205.00" text-anchor="middle" font-size="10.0">Time of growth (h)</text>
<text transform="translate(271.90 108.65) rotate(-90)" text-anchor="middle" font-size="10.2">Frequency (%)</text>
<text transform="translate(423.5 33.0) scale(0.92 1)" font-size="10.6" font-weight="bold" text-anchor="middle"><tspan font-style="italic">Bcbva</tspan> CI</text>
<rect x="397" y="40.5" width="132.29999999999995" height="22.0" fill="#fff" stroke="#222" stroke-width="1"/>
<text x="461.65" y="54.70" text-anchor="middle" font-size="10.4" fill="#222" textLength="112" lengthAdjust="spacingAndGlyphs">t<tspan font-size="6.6" dy="1.8">0</tspan><tspan dy="-1.8"> = 4h; t</tspan><tspan font-size="6.6" dy="1.8">1</tspan><tspan dy="-1.8"> = 5h; t</tspan><tspan font-size="6.6" dy="1.8">2</tspan><tspan dy="-1.8"> = 6h</tspan></text>
</g>
<g id="chartC">
<rect x="300.40" y="264.21" width="2.8" height="131.89" fill="#828282" stroke="#555555" stroke-width="0.6"/>
<rect x="304.40" y="395.02" width="2.4" height="1.08" fill="#ffff33" stroke="#8a8a20" stroke-width="0.6"/>
<rect x="308.40" y="392.27" width="2.4" height="3.83" fill="#ff3b3b" stroke="#c02020" stroke-width="0.6"/>
<rect x="324.40" y="395.02" width="2.4" height="1.08" fill="#e000d0" stroke="#900088" stroke-width="0.6"/>
<rect x="335.40" y="268.34" width="2.8" height="127.76" fill="#828282" stroke="#555555" stroke-width="0.6"/>
<rect x="339.40" y="395.02" width="2.4" height="1.08" fill="#ffff33" stroke="#8a8a20" stroke-width="0.6"/>
<rect x="343.40" y="386.76" width="2.4" height="9.34" fill="#ff3b3b" stroke="#c02020" stroke-width="0.6"/>
<rect x="370.40" y="266.96" width="2.8" height="129.14" fill="#828282" stroke="#555555" stroke-width="0.6"/>
<rect x="374.40" y="395.02" width="2.4" height="1.08" fill="#ffff33" stroke="#8a8a20" stroke-width="0.6"/>
<rect x="378.40" y="389.52" width="2.4" height="6.59" fill="#ff3b3b" stroke="#c02020" stroke-width="0.6"/>
<rect x="405.40" y="312.40" width="2.8" height="83.70" fill="#828282" stroke="#555555" stroke-width="0.6"/>
<rect x="413.40" y="389.52" width="2.4" height="6.59" fill="#ff3b3b" stroke="#c02020" stroke-width="0.6"/>
<rect x="417.40" y="349.58" width="2.4" height="46.52" fill="#00c020" stroke="#008a18" stroke-width="0.6"/>
<rect x="440.40" y="322.04" width="2.8" height="74.06" fill="#828282" stroke="#555555" stroke-width="0.6"/>
<rect x="444.40" y="390.89" width="2.4" height="5.21" fill="#ffff33" stroke="#8a8a20" stroke-width="0.6"/>
<rect x="448.40" y="392.27" width="2.4" height="3.83" fill="#ff3b3b" stroke="#c02020" stroke-width="0.6"/>
<rect x="452.40" y="389.52" width="2.4" height="6.59" fill="#00c020" stroke="#008a18" stroke-width="0.6"/>
<rect x="456.40" y="366.11" width="2.4" height="29.99" fill="#0000d0" stroke="#000070" stroke-width="0.6"/>
<rect x="460.40" y="378.50" width="2.4" height="17.60" fill="#ff8210" stroke="#b85a08" stroke-width="0.6"/>
<rect x="475.40" y="337.19" width="2.8" height="58.91" fill="#828282" stroke="#555555" stroke-width="0.6"/>
<rect x="479.40" y="388.14" width="2.4" height="7.96" fill="#ffff33" stroke="#8a8a20" stroke-width="0.6"/>
<rect x="483.40" y="393.65" width="2.4" height="2.45" fill="#ff3b3b" stroke="#c02020" stroke-width="0.6"/>
<rect x="487.40" y="393.65" width="2.4" height="2.45" fill="#00c020" stroke="#008a18" stroke-width="0.6"/>
<rect x="491.40" y="363.35" width="2.4" height="32.75" fill="#0000d0" stroke="#000070" stroke-width="0.6"/>
<rect x="495.40" y="363.35" width="2.4" height="32.75" fill="#ff8210" stroke="#b85a08" stroke-width="0.6"/>
<rect x="510.40" y="341.32" width="2.8" height="54.78" fill="#828282" stroke="#555555" stroke-width="0.6"/>
<rect x="514.40" y="385.38" width="2.4" height="10.72" fill="#ffff33" stroke="#8a8a20" stroke-width="0.6"/>
<rect x="518.40" y="393.65" width="2.4" height="2.45" fill="#ff3b3b" stroke="#c02020" stroke-width="0.6"/>
<rect x="526.40" y="385.38" width="2.4" height="10.72" fill="#0000d0" stroke="#000070" stroke-width="0.6"/>
<rect x="530.40" y="342.70" width="2.4" height="53.40" fill="#ff8210" stroke="#b85a08" stroke-width="0.6"/>
<rect x="534.40" y="392.27" width="2.4" height="3.83" fill="#e000d0" stroke="#900088" stroke-width="0.6"/>
<path d="M299.0 257.9V396.1H544.0" fill="none" stroke="#222" stroke-width="1.1"/>
<path d="M293.7 396.10H299.0" stroke="#222" stroke-width="1"/>
<text transform="translate(292.3 399.40) scale(0.89 1)" text-anchor="end" font-size="9.3">0</text>
<path d="M293.7 382.33H299.0" stroke="#222" stroke-width="1"/>
<text transform="translate(292.3 385.63) scale(0.89 1)" text-anchor="end" font-size="9.3">10</text>
<path d="M293.7 368.56H299.0" stroke="#222" stroke-width="1"/>
<text transform="translate(292.3 371.86) scale(0.89 1)" text-anchor="end" font-size="9.3">20</text>
<path d="M293.7 354.79H299.0" stroke="#222" stroke-width="1"/>
<text transform="translate(292.3 358.09) scale(0.89 1)" text-anchor="end" font-size="9.3">30</text>
<path d="M293.7 341.02H299.0" stroke="#222" stroke-width="1"/>
<text transform="translate(292.3 344.32) scale(0.89 1)" text-anchor="end" font-size="9.3">40</text>
<path d="M293.7 327.25H299.0" stroke="#222" stroke-width="1"/>
<text transform="translate(292.3 330.55) scale(0.89 1)" text-anchor="end" font-size="9.3">50</text>
<path d="M293.7 313.48H299.0" stroke="#222" stroke-width="1"/>
<text transform="translate(292.3 316.78) scale(0.89 1)" text-anchor="end" font-size="9.3">60</text>
<path d="M293.7 299.71H299.0" stroke="#222" stroke-width="1"/>
<text transform="translate(292.3 303.01) scale(0.89 1)" text-anchor="end" font-size="9.3">70</text>
<path d="M293.7 285.94H299.0" stroke="#222" stroke-width="1"/>
<text transform="translate(292.3 289.24) scale(0.89 1)" text-anchor="end" font-size="9.3">80</text>
<path d="M293.7 272.17H299.0" stroke="#222" stroke-width="1"/>
<text transform="translate(292.3 275.47) scale(0.89 1)" text-anchor="end" font-size="9.3">90</text>
<path d="M293.7 258.40H299.0" stroke="#222" stroke-width="1"/>
<text transform="translate(292.3 261.70) scale(0.89 1)" text-anchor="end" font-size="9.3">100</text>
<path d="M315.40 396.1v2.6" stroke="#222" stroke-width="1"/>
<text x="316.10" y="407.80" text-anchor="middle" font-size="9.3">2</text>
<path d="M350.40 396.1v2.6" stroke="#222" stroke-width="1"/>
<text x="351.10" y="407.80" text-anchor="middle" font-size="9.3">4</text>
<path d="M385.40 396.1v2.6" stroke="#222" stroke-width="1"/>
<text x="386.10" y="407.80" text-anchor="middle" font-size="9.3">5</text>
<path d="M420.40 396.1v2.6" stroke="#222" stroke-width="1"/>
<text x="421.10" y="407.80" text-anchor="middle" font-size="9.3">6</text>
<path d="M455.40 396.1v2.6" stroke="#222" stroke-width="1"/>
<text x="456.10" y="407.80" text-anchor="middle" font-size="9.3">7</text>
<path d="M490.40 396.1v2.6" stroke="#222" stroke-width="1"/>
<text x="491.10" y="407.80" text-anchor="middle" font-size="9.3">8</text>
<path d="M525.40 396.1v2.6" stroke="#222" stroke-width="1"/>
<text x="526.10" y="407.80" text-anchor="middle" font-size="9.3">9</text>
<text x="421.50" y="422.00" text-anchor="middle" font-size="9.6">Time of growth (h)</text>
<text transform="translate(272.00 327.25) rotate(-90)" text-anchor="middle" font-size="10.2">Frequency (%)</text>
<text transform="translate(421.7 239.9) scale(0.92 1)" font-size="10.6" font-weight="bold" text-anchor="middle"><tspan font-style="italic">Ba</tspan> 14RA5914</text>
<rect x="397" y="246.8" width="132.29999999999995" height="22.19999999999999" fill="#fff" stroke="#222" stroke-width="1"/>
<text x="461.65" y="261.00" text-anchor="middle" font-size="10.4" fill="#222" textLength="112" lengthAdjust="spacingAndGlyphs">t<tspan font-size="6.6" dy="1.8">0</tspan><tspan dy="-1.8"> = 5h; t</tspan><tspan font-size="6.6" dy="1.8">1</tspan><tspan dy="-1.8"> = 6h; t</tspan><tspan font-size="6.6" dy="1.8">2</tspan><tspan dy="-1.8"> = 7h</tspan></text>
</g>
<g id="legend">
<rect x="302.90000000000003" y="443.9" width="10.4" height="4.2" fill="#8c8c8c" stroke="#555555" stroke-width="0.6"/>
<text x="319.0" y="448.7" font-size="7.6">Stage 1</text>
<rect x="363.40000000000003" y="443.9" width="10.4" height="4.2" fill="#ffff33" stroke="#8a8a20" stroke-width="0.6"/>
<text x="379.5" y="448.7" font-size="7.6">Stage 2</text>
<rect x="426.5" y="443.9" width="10.4" height="4.2" fill="#ff3b3b" stroke="#c02020" stroke-width="0.6"/>
<text x="442.59999999999997" y="448.7" font-size="7.6">Stage 3</text>
<rect x="489.1" y="443.9" width="10.4" height="4.2" fill="#00c020" stroke="#008a18" stroke-width="0.6"/>
<text x="505.2" y="448.7" font-size="7.6">Stage 4</text>
<rect x="302.90000000000003" y="463.09999999999997" width="10.4" height="4.2" fill="#0000d0" stroke="#000070" stroke-width="0.6"/>
<text x="319.0" y="467.9" font-size="7.6">Stage 5</text>
<rect x="363.40000000000003" y="463.09999999999997" width="10.4" height="4.2" fill="#ff8210" stroke="#b85a08" stroke-width="0.6"/>
<text x="379.5" y="467.9" font-size="7.6">Stage 6</text>
<rect x="426.5" y="463.09999999999997" width="10.4" height="4.2" fill="#e000d0" stroke="#900088" stroke-width="0.6"/>
<text x="442.59999999999997" y="467.9" font-size="7.6">Stage 7</text>
<rect x="489.1" y="463.09999999999997" width="10.4" height="4.2" fill="#9a8236" stroke="#6a5a20" stroke-width="0.6"/>
<text x="505.2" y="467.9" font-size="7.6">Stage 8</text>
</g>
</svg>
</body></html>
